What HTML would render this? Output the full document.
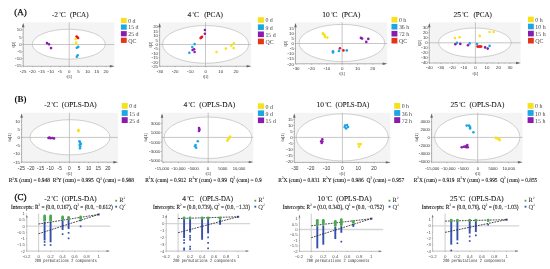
<!DOCTYPE html>
<html><head><meta charset="utf-8"><style>
html,body{margin:0;padding:0;background:#fff;width:550px;height:269px;overflow:hidden}
svg{display:block;will-change:transform;text-rendering:geometricPrecision}
</style></head><body>
<svg width="550" height="269" viewBox="0 0 550 269">
<rect width="550" height="269" fill="#fff"/>
<rect x="23.2" y="22.3" width="91.2" height="44.0" fill="#f4f4f4"/>
<ellipse cx="68.8" cy="44.2" rx="36.5" ry="15.0" fill="#fff" stroke="#c4c4c4" stroke-width="0.8"/>
<line x1="69.2" y1="22.3" x2="69.2" y2="66.3" stroke="#b4b4b4" stroke-width="0.75"/>
<line x1="23.2" y1="44.5" x2="114.4" y2="44.5" stroke="#b4b4b4" stroke-width="0.75"/>
<line x1="23.2" y1="66.3" x2="23.2" y2="24.3" stroke="#8a8a8a" stroke-width="0.65"/>
<path d="M21.9 27.3 L23.2 22.900000000000002 L24.5 27.3Z" fill="#666"/>
<line x1="23.2" y1="66.3" x2="112.4" y2="66.3" stroke="#8a8a8a" stroke-width="0.65"/>
<path d="M109.80000000000001 65.1 L114.60000000000001 66.3 L109.80000000000001 67.5Z" fill="#666"/>
<line x1="27.80" y1="66.3" x2="27.80" y2="67.1" stroke="#999" stroke-width="0.4"/>
<line x1="37.00" y1="66.3" x2="37.00" y2="67.1" stroke="#999" stroke-width="0.4"/>
<line x1="46.20" y1="66.3" x2="46.20" y2="67.1" stroke="#999" stroke-width="0.4"/>
<line x1="55.40" y1="66.3" x2="55.40" y2="67.1" stroke="#999" stroke-width="0.4"/>
<line x1="64.60" y1="66.3" x2="64.60" y2="67.1" stroke="#999" stroke-width="0.4"/>
<line x1="73.80" y1="66.3" x2="73.80" y2="67.1" stroke="#999" stroke-width="0.4"/>
<line x1="83.00" y1="66.3" x2="83.00" y2="67.1" stroke="#999" stroke-width="0.4"/>
<line x1="92.20" y1="66.3" x2="92.20" y2="67.1" stroke="#999" stroke-width="0.4"/>
<line x1="101.40" y1="66.3" x2="101.40" y2="67.1" stroke="#999" stroke-width="0.4"/>
<line x1="22.4" y1="62.30" x2="23.2" y2="62.30" stroke="#999" stroke-width="0.4"/>
<line x1="22.4" y1="55.10" x2="23.2" y2="55.10" stroke="#999" stroke-width="0.4"/>
<line x1="22.4" y1="47.90" x2="23.2" y2="47.90" stroke="#999" stroke-width="0.4"/>
<line x1="22.4" y1="40.70" x2="23.2" y2="40.70" stroke="#999" stroke-width="0.4"/>
<line x1="22.4" y1="33.50" x2="23.2" y2="33.50" stroke="#999" stroke-width="0.4"/>
<line x1="23.20" y1="66.3" x2="23.20" y2="67.3" stroke="#666" stroke-width="0.4"/>
<rect x="19.96" y="71.42" width="1.19" height="0.5" fill="#333"/>
<text x="21.55" y="73.00" font-family="Liberation Sans" font-size="4.4" fill="#333" text-rendering="auto">25</text>
<line x1="32.40" y1="66.3" x2="32.40" y2="67.3" stroke="#666" stroke-width="0.4"/>
<rect x="29.16" y="71.42" width="1.19" height="0.5" fill="#333"/>
<text x="30.75" y="73.00" font-family="Liberation Sans" font-size="4.4" fill="#333" text-rendering="auto">20</text>
<line x1="41.60" y1="66.3" x2="41.60" y2="67.3" stroke="#666" stroke-width="0.4"/>
<rect x="38.36" y="71.42" width="1.19" height="0.5" fill="#333"/>
<text x="39.95" y="73.00" font-family="Liberation Sans" font-size="4.4" fill="#333" text-rendering="auto">15</text>
<line x1="50.80" y1="66.3" x2="50.80" y2="67.3" stroke="#666" stroke-width="0.4"/>
<rect x="47.56" y="71.42" width="1.19" height="0.5" fill="#333"/>
<text x="49.15" y="73.00" font-family="Liberation Sans" font-size="4.4" fill="#333" text-rendering="auto">10</text>
<line x1="60.00" y1="66.3" x2="60.00" y2="67.3" stroke="#666" stroke-width="0.4"/>
<rect x="57.98" y="71.42" width="1.19" height="0.5" fill="#333"/>
<text x="59.57" y="73.00" font-family="Liberation Sans" font-size="4.4" fill="#333" text-rendering="auto">5</text>
<line x1="69.20" y1="66.3" x2="69.20" y2="67.3" stroke="#666" stroke-width="0.4"/>
<text x="67.98" y="73.00" font-family="Liberation Sans" font-size="4.4" fill="#333" text-rendering="auto">0</text>
<line x1="78.40" y1="66.3" x2="78.40" y2="67.3" stroke="#666" stroke-width="0.4"/>
<text x="77.18" y="73.00" font-family="Liberation Sans" font-size="4.4" fill="#333" text-rendering="auto">5</text>
<line x1="87.60" y1="66.3" x2="87.60" y2="67.3" stroke="#666" stroke-width="0.4"/>
<text x="85.15" y="73.00" font-family="Liberation Sans" font-size="4.4" fill="#333" text-rendering="auto">10</text>
<line x1="96.80" y1="66.3" x2="96.80" y2="67.3" stroke="#666" stroke-width="0.4"/>
<text x="94.35" y="73.00" font-family="Liberation Sans" font-size="4.4" fill="#333" text-rendering="auto">15</text>
<line x1="106.00" y1="66.3" x2="106.00" y2="67.3" stroke="#666" stroke-width="0.4"/>
<text x="103.55" y="73.00" font-family="Liberation Sans" font-size="4.4" fill="#333" text-rendering="auto">20</text>
<line x1="22.2" y1="65.90" x2="23.2" y2="65.90" stroke="#666" stroke-width="0.4"/>
<rect x="15.27" y="65.45" width="1.16" height="0.5" fill="#333"/>
<text x="16.82" y="67.00" font-family="Liberation Sans" font-size="4.3" fill="#333" text-rendering="auto">15</text>
<line x1="22.2" y1="58.70" x2="23.2" y2="58.70" stroke="#666" stroke-width="0.4"/>
<rect x="15.27" y="58.45" width="1.16" height="0.5" fill="#333"/>
<text x="16.82" y="60.00" font-family="Liberation Sans" font-size="4.3" fill="#333" text-rendering="auto">10</text>
<line x1="22.2" y1="51.50" x2="23.2" y2="51.50" stroke="#666" stroke-width="0.4"/>
<rect x="17.66" y="51.45" width="1.16" height="0.5" fill="#333"/>
<text x="19.21" y="53.00" font-family="Liberation Sans" font-size="4.3" fill="#333" text-rendering="auto">5</text>
<line x1="22.2" y1="44.30" x2="23.2" y2="44.30" stroke="#666" stroke-width="0.4"/>
<text x="19.21" y="46.00" font-family="Liberation Sans" font-size="4.3" fill="#333" text-rendering="auto">0</text>
<line x1="22.2" y1="37.10" x2="23.2" y2="37.10" stroke="#666" stroke-width="0.4"/>
<text x="19.21" y="39.00" font-family="Liberation Sans" font-size="4.3" fill="#333" text-rendering="auto">5</text>
<line x1="22.2" y1="29.90" x2="23.2" y2="29.90" stroke="#666" stroke-width="0.4"/>
<text x="16.82" y="31.00" font-family="Liberation Sans" font-size="4.3" fill="#333" text-rendering="auto">10</text>
<text x="69.20" y="77.90" font-family="Liberation Sans" font-size="4.0" text-anchor="middle" fill="#444" >t[1]</text>
<text x="0" y="0" font-family="Liberation Sans" font-size="4.2" text-anchor="middle" fill="#444" transform="translate(15.1,44.5) rotate(-90)">t[2]</text>
<text x="58.10" y="16.9" font-family="Liberation Serif" font-size="7.5" text-anchor="end" fill="#111" stroke="#111" stroke-width="0.08">-2</text>
<text x="65.7" y="16.9" font-family="Liberation Serif" font-size="7.5" text-anchor="end" fill="#111" stroke="#111" stroke-width="0.08">C</text>
<text x="61.00" y="14.90" font-family="Liberation Serif" font-size="4.20" text-anchor="end" fill="#111" stroke="#111" stroke-width="0.08">°</text>
<text x="70.1" y="16.9" font-family="Liberation Serif" font-size="7.5" fill="#111" stroke="#111" stroke-width="0.08" textLength="18.50" lengthAdjust="spacingAndGlyphs">(PCA)</text>
<rect x="120.9" y="17.90" width="5.8" height="5.2" fill="#f7e11b"/>
<text x="128.20" y="22.70" font-family="Liberation Serif" font-size="5.9" text-anchor="start" fill="#444" >0 d</text>
<rect x="120.9" y="24.50" width="5.8" height="5.2" fill="#1ba6e6"/>
<text x="128.20" y="29.30" font-family="Liberation Serif" font-size="5.9" text-anchor="start" fill="#444" >15 d</text>
<rect x="120.9" y="31.10" width="5.8" height="5.2" fill="#8a1bb0"/>
<text x="128.20" y="35.90" font-family="Liberation Serif" font-size="5.9" text-anchor="start" fill="#444" >25 d</text>
<rect x="120.9" y="37.70" width="5.8" height="5.2" fill="#e2361a"/>
<text x="128.20" y="42.50" font-family="Liberation Serif" font-size="5.9" text-anchor="start" fill="#444" >QC</text>
<circle cx="47.00" cy="43.10" r="1.3" fill="#8a1bb0"/>
<circle cx="49.00" cy="44.20" r="1.3" fill="#8a1bb0"/>
<circle cx="51.00" cy="48.10" r="1.3" fill="#8a1bb0"/>
<circle cx="76.60" cy="36.50" r="1.3" fill="#ee1818"/>
<circle cx="78.10" cy="38.00" r="1.3" fill="#ee1818"/>
<circle cx="77.40" cy="37.20" r="1.3" fill="#ee1818"/>
<circle cx="75.60" cy="39.00" r="1.3" fill="#f7e11b"/>
<circle cx="76.10" cy="42.60" r="1.3" fill="#f7e11b"/>
<circle cx="76.10" cy="44.00" r="1.3" fill="#f7e11b"/>
<circle cx="76.80" cy="47.80" r="1.3" fill="#1ba6e6"/>
<circle cx="78.20" cy="46.90" r="1.3" fill="#1ba6e6"/>
<circle cx="76.80" cy="56.80" r="1.3" fill="#1ba6e6"/>
<circle cx="77.70" cy="55.20" r="1.3" fill="#1ba6e6"/>
<rect x="159.6" y="22.3" width="91.6" height="44.0" fill="#f4f4f4"/>
<ellipse cx="205.6" cy="44.4" rx="43.1" ry="18.9" fill="#fff" stroke="#c4c4c4" stroke-width="0.8"/>
<line x1="205.5" y1="22.3" x2="205.5" y2="66.3" stroke="#b4b4b4" stroke-width="0.75"/>
<line x1="159.6" y1="44.5" x2="251.2" y2="44.5" stroke="#b4b4b4" stroke-width="0.75"/>
<line x1="159.6" y1="66.3" x2="159.6" y2="24.3" stroke="#8a8a8a" stroke-width="0.65"/>
<path d="M158.29999999999998 27.3 L159.6 22.900000000000002 L160.9 27.3Z" fill="#666"/>
<line x1="159.6" y1="66.3" x2="249.2" y2="66.3" stroke="#8a8a8a" stroke-width="0.65"/>
<path d="M246.6 65.1 L251.39999999999998 66.3 L246.6 67.5Z" fill="#666"/>
<line x1="167.60" y1="66.3" x2="167.60" y2="67.1" stroke="#999" stroke-width="0.4"/>
<line x1="182.80" y1="66.3" x2="182.80" y2="67.1" stroke="#999" stroke-width="0.4"/>
<line x1="198.00" y1="66.3" x2="198.00" y2="67.1" stroke="#999" stroke-width="0.4"/>
<line x1="213.20" y1="66.3" x2="213.20" y2="67.1" stroke="#999" stroke-width="0.4"/>
<line x1="228.40" y1="66.3" x2="228.40" y2="67.1" stroke="#999" stroke-width="0.4"/>
<line x1="158.79999999999998" y1="64.20" x2="159.6" y2="64.20" stroke="#999" stroke-width="0.4"/>
<line x1="158.79999999999998" y1="59.80" x2="159.6" y2="59.80" stroke="#999" stroke-width="0.4"/>
<line x1="158.79999999999998" y1="55.40" x2="159.6" y2="55.40" stroke="#999" stroke-width="0.4"/>
<line x1="158.79999999999998" y1="51.00" x2="159.6" y2="51.00" stroke="#999" stroke-width="0.4"/>
<line x1="158.79999999999998" y1="46.60" x2="159.6" y2="46.60" stroke="#999" stroke-width="0.4"/>
<line x1="158.79999999999998" y1="42.20" x2="159.6" y2="42.20" stroke="#999" stroke-width="0.4"/>
<line x1="158.79999999999998" y1="37.80" x2="159.6" y2="37.80" stroke="#999" stroke-width="0.4"/>
<line x1="158.79999999999998" y1="33.40" x2="159.6" y2="33.40" stroke="#999" stroke-width="0.4"/>
<line x1="158.79999999999998" y1="29.00" x2="159.6" y2="29.00" stroke="#999" stroke-width="0.4"/>
<line x1="160.00" y1="66.3" x2="160.00" y2="67.3" stroke="#666" stroke-width="0.4"/>
<rect x="156.76" y="71.42" width="1.19" height="0.5" fill="#333"/>
<text x="158.35" y="73.00" font-family="Liberation Sans" font-size="4.4" fill="#333" text-rendering="auto">30</text>
<line x1="175.20" y1="66.3" x2="175.20" y2="67.3" stroke="#666" stroke-width="0.4"/>
<rect x="171.96" y="71.42" width="1.19" height="0.5" fill="#333"/>
<text x="173.55" y="73.00" font-family="Liberation Sans" font-size="4.4" fill="#333" text-rendering="auto">20</text>
<line x1="190.40" y1="66.3" x2="190.40" y2="67.3" stroke="#666" stroke-width="0.4"/>
<rect x="187.16" y="71.42" width="1.19" height="0.5" fill="#333"/>
<text x="188.75" y="73.00" font-family="Liberation Sans" font-size="4.4" fill="#333" text-rendering="auto">10</text>
<line x1="205.60" y1="66.3" x2="205.60" y2="67.3" stroke="#666" stroke-width="0.4"/>
<text x="204.38" y="73.00" font-family="Liberation Sans" font-size="4.4" fill="#333" text-rendering="auto">0</text>
<line x1="220.80" y1="66.3" x2="220.80" y2="67.3" stroke="#666" stroke-width="0.4"/>
<text x="218.35" y="73.00" font-family="Liberation Sans" font-size="4.4" fill="#333" text-rendering="auto">10</text>
<line x1="236.00" y1="66.3" x2="236.00" y2="67.3" stroke="#666" stroke-width="0.4"/>
<text x="233.55" y="73.00" font-family="Liberation Sans" font-size="4.4" fill="#333" text-rendering="auto">20</text>
<line x1="158.6" y1="66.40" x2="159.6" y2="66.40" stroke="#666" stroke-width="0.4"/>
<rect x="151.67" y="66.45" width="1.16" height="0.5" fill="#333"/>
<text x="153.22" y="68.00" font-family="Liberation Sans" font-size="4.3" fill="#333" text-rendering="auto">25</text>
<line x1="158.6" y1="62.00" x2="159.6" y2="62.00" stroke="#666" stroke-width="0.4"/>
<rect x="151.67" y="62.45" width="1.16" height="0.5" fill="#333"/>
<text x="153.22" y="64.00" font-family="Liberation Sans" font-size="4.3" fill="#333" text-rendering="auto">20</text>
<line x1="158.6" y1="57.60" x2="159.6" y2="57.60" stroke="#666" stroke-width="0.4"/>
<rect x="151.67" y="57.45" width="1.16" height="0.5" fill="#333"/>
<text x="153.22" y="59.00" font-family="Liberation Sans" font-size="4.3" fill="#333" text-rendering="auto">15</text>
<line x1="158.6" y1="53.20" x2="159.6" y2="53.20" stroke="#666" stroke-width="0.4"/>
<rect x="151.67" y="53.45" width="1.16" height="0.5" fill="#333"/>
<text x="153.22" y="55.00" font-family="Liberation Sans" font-size="4.3" fill="#333" text-rendering="auto">10</text>
<line x1="158.6" y1="48.80" x2="159.6" y2="48.80" stroke="#666" stroke-width="0.4"/>
<rect x="154.06" y="48.45" width="1.16" height="0.5" fill="#333"/>
<text x="155.61" y="50.00" font-family="Liberation Sans" font-size="4.3" fill="#333" text-rendering="auto">5</text>
<line x1="158.6" y1="44.40" x2="159.6" y2="44.40" stroke="#666" stroke-width="0.4"/>
<text x="155.61" y="46.00" font-family="Liberation Sans" font-size="4.3" fill="#333" text-rendering="auto">0</text>
<line x1="158.6" y1="40.00" x2="159.6" y2="40.00" stroke="#666" stroke-width="0.4"/>
<text x="155.61" y="42.00" font-family="Liberation Sans" font-size="4.3" fill="#333" text-rendering="auto">5</text>
<line x1="158.6" y1="35.60" x2="159.6" y2="35.60" stroke="#666" stroke-width="0.4"/>
<text x="153.22" y="37.00" font-family="Liberation Sans" font-size="4.3" fill="#333" text-rendering="auto">10</text>
<line x1="158.6" y1="31.20" x2="159.6" y2="31.20" stroke="#666" stroke-width="0.4"/>
<text x="153.22" y="33.00" font-family="Liberation Sans" font-size="4.3" fill="#333" text-rendering="auto">15</text>
<line x1="158.6" y1="26.80" x2="159.6" y2="26.80" stroke="#666" stroke-width="0.4"/>
<text x="153.22" y="28.00" font-family="Liberation Sans" font-size="4.3" fill="#333" text-rendering="auto">20</text>
<text x="205.50" y="77.90" font-family="Liberation Sans" font-size="4.0" text-anchor="middle" fill="#444" >t[1]</text>
<text x="0" y="0" font-family="Liberation Sans" font-size="4.2" text-anchor="middle" fill="#444" transform="translate(151.5,44.5) rotate(-90)">t[2]</text>
<text x="191.30" y="16.9" font-family="Liberation Serif" font-size="7.5" text-anchor="end" fill="#111" stroke="#111" stroke-width="0.08">4</text>
<text x="198.9" y="16.9" font-family="Liberation Serif" font-size="7.5" text-anchor="end" fill="#111" stroke="#111" stroke-width="0.08">C</text>
<text x="194.20" y="14.90" font-family="Liberation Serif" font-size="4.20" text-anchor="end" fill="#111" stroke="#111" stroke-width="0.08">°</text>
<text x="204.2" y="16.9" font-family="Liberation Serif" font-size="7.5" fill="#111" stroke="#111" stroke-width="0.08" textLength="18.80" lengthAdjust="spacingAndGlyphs">(PCA)</text>
<rect x="257.9" y="17.20" width="6.0" height="5.6" fill="#f7e11b"/>
<text x="265.40" y="22.40" font-family="Liberation Serif" font-size="5.9" text-anchor="start" fill="#444" >0 d</text>
<rect x="257.9" y="24.35" width="6.0" height="5.6" fill="#1ba6e6"/>
<text x="265.40" y="29.55" font-family="Liberation Serif" font-size="5.9" text-anchor="start" fill="#444" >9 d</text>
<rect x="257.9" y="31.50" width="6.0" height="5.6" fill="#8a1bb0"/>
<text x="265.40" y="36.70" font-family="Liberation Serif" font-size="5.9" text-anchor="start" fill="#444" >15 d</text>
<rect x="257.9" y="38.65" width="6.0" height="5.6" fill="#e2361a"/>
<text x="265.40" y="43.85" font-family="Liberation Serif" font-size="5.9" text-anchor="start" fill="#444" >QC</text>
<circle cx="204.90" cy="30.00" r="1.3" fill="#8a1bb0"/>
<circle cx="204.90" cy="33.70" r="1.3" fill="#8a1bb0"/>
<circle cx="200.60" cy="38.10" r="1.3" fill="#ee1818"/>
<circle cx="202.00" cy="36.90" r="1.3" fill="#ee1818"/>
<circle cx="201.20" cy="37.50" r="1.3" fill="#ee1818"/>
<circle cx="194.60" cy="44.10" r="1.3" fill="#1ba6e6"/>
<circle cx="192.30" cy="47.10" r="1.3" fill="#1ba6e6"/>
<circle cx="189.30" cy="52.80" r="1.3" fill="#1ba6e6"/>
<circle cx="192.60" cy="50.00" r="1.3" fill="#8a1bb0"/>
<circle cx="194.10" cy="49.20" r="1.3" fill="#8a1bb0"/>
<circle cx="194.60" cy="52.00" r="1.3" fill="#8a1bb0"/>
<circle cx="233.90" cy="43.40" r="1.3" fill="#f7e11b"/>
<circle cx="231.30" cy="45.60" r="1.3" fill="#f7e11b"/>
<circle cx="233.60" cy="48.10" r="1.3" fill="#f7e11b"/>
<circle cx="225.90" cy="48.60" r="1.3" fill="#f7e11b"/>
<circle cx="216.50" cy="52.00" r="1.3" fill="#f7e11b"/>
<rect x="295.5" y="22.3" width="91.69999999999999" height="41.5" fill="#f4f4f4"/>
<ellipse cx="341.85" cy="43.0" rx="42.85" ry="18.6" fill="#fff" stroke="#c4c4c4" stroke-width="0.8"/>
<line x1="342.1" y1="22.3" x2="342.1" y2="63.8" stroke="#b4b4b4" stroke-width="0.75"/>
<line x1="295.5" y1="43.5" x2="387.2" y2="43.5" stroke="#b4b4b4" stroke-width="0.75"/>
<line x1="295.5" y1="63.8" x2="295.5" y2="24.3" stroke="#8a8a8a" stroke-width="0.65"/>
<path d="M294.2 27.3 L295.5 22.900000000000002 L296.8 27.3Z" fill="#666"/>
<line x1="295.5" y1="63.8" x2="385.2" y2="63.8" stroke="#8a8a8a" stroke-width="0.65"/>
<path d="M382.59999999999997 62.599999999999994 L387.4 63.8 L382.59999999999997 65.0Z" fill="#666"/>
<line x1="303.95" y1="63.8" x2="303.95" y2="64.6" stroke="#999" stroke-width="0.4"/>
<line x1="319.25" y1="63.8" x2="319.25" y2="64.6" stroke="#999" stroke-width="0.4"/>
<line x1="334.55" y1="63.8" x2="334.55" y2="64.6" stroke="#999" stroke-width="0.4"/>
<line x1="349.85" y1="63.8" x2="349.85" y2="64.6" stroke="#999" stroke-width="0.4"/>
<line x1="365.15" y1="63.8" x2="365.15" y2="64.6" stroke="#999" stroke-width="0.4"/>
<line x1="294.7" y1="61.45" x2="295.5" y2="61.45" stroke="#999" stroke-width="0.4"/>
<line x1="294.7" y1="56.35" x2="295.5" y2="56.35" stroke="#999" stroke-width="0.4"/>
<line x1="294.7" y1="51.25" x2="295.5" y2="51.25" stroke="#999" stroke-width="0.4"/>
<line x1="294.7" y1="46.15" x2="295.5" y2="46.15" stroke="#999" stroke-width="0.4"/>
<line x1="294.7" y1="41.05" x2="295.5" y2="41.05" stroke="#999" stroke-width="0.4"/>
<line x1="294.7" y1="35.95" x2="295.5" y2="35.95" stroke="#999" stroke-width="0.4"/>
<line x1="294.7" y1="30.85" x2="295.5" y2="30.85" stroke="#999" stroke-width="0.4"/>
<line x1="296.30" y1="63.8" x2="296.30" y2="64.8" stroke="#666" stroke-width="0.4"/>
<rect x="293.06" y="68.42" width="1.19" height="0.5" fill="#333"/>
<text x="294.65" y="70.00" font-family="Liberation Sans" font-size="4.4" fill="#333" text-rendering="auto">30</text>
<line x1="311.60" y1="63.8" x2="311.60" y2="64.8" stroke="#666" stroke-width="0.4"/>
<rect x="308.36" y="68.42" width="1.19" height="0.5" fill="#333"/>
<text x="309.95" y="70.00" font-family="Liberation Sans" font-size="4.4" fill="#333" text-rendering="auto">20</text>
<line x1="326.90" y1="63.8" x2="326.90" y2="64.8" stroke="#666" stroke-width="0.4"/>
<rect x="323.66" y="68.42" width="1.19" height="0.5" fill="#333"/>
<text x="325.25" y="70.00" font-family="Liberation Sans" font-size="4.4" fill="#333" text-rendering="auto">10</text>
<line x1="342.20" y1="63.8" x2="342.20" y2="64.8" stroke="#666" stroke-width="0.4"/>
<text x="340.98" y="70.00" font-family="Liberation Sans" font-size="4.4" fill="#333" text-rendering="auto">0</text>
<line x1="357.50" y1="63.8" x2="357.50" y2="64.8" stroke="#666" stroke-width="0.4"/>
<text x="355.05" y="70.00" font-family="Liberation Sans" font-size="4.4" fill="#333" text-rendering="auto">10</text>
<line x1="372.80" y1="63.8" x2="372.80" y2="64.8" stroke="#666" stroke-width="0.4"/>
<text x="370.35" y="70.00" font-family="Liberation Sans" font-size="4.4" fill="#333" text-rendering="auto">20</text>
<line x1="294.5" y1="64.00" x2="295.5" y2="64.00" stroke="#666" stroke-width="0.4"/>
<rect x="287.57" y="64.45" width="1.16" height="0.5" fill="#333"/>
<text x="289.12" y="66.00" font-family="Liberation Sans" font-size="4.3" fill="#333" text-rendering="auto">20</text>
<line x1="294.5" y1="58.90" x2="295.5" y2="58.90" stroke="#666" stroke-width="0.4"/>
<rect x="287.57" y="58.45" width="1.16" height="0.5" fill="#333"/>
<text x="289.12" y="60.00" font-family="Liberation Sans" font-size="4.3" fill="#333" text-rendering="auto">15</text>
<line x1="294.5" y1="53.80" x2="295.5" y2="53.80" stroke="#666" stroke-width="0.4"/>
<rect x="287.57" y="53.45" width="1.16" height="0.5" fill="#333"/>
<text x="289.12" y="55.00" font-family="Liberation Sans" font-size="4.3" fill="#333" text-rendering="auto">10</text>
<line x1="294.5" y1="48.70" x2="295.5" y2="48.70" stroke="#666" stroke-width="0.4"/>
<rect x="289.96" y="48.45" width="1.16" height="0.5" fill="#333"/>
<text x="291.51" y="50.00" font-family="Liberation Sans" font-size="4.3" fill="#333" text-rendering="auto">5</text>
<line x1="294.5" y1="43.60" x2="295.5" y2="43.60" stroke="#666" stroke-width="0.4"/>
<text x="291.51" y="45.00" font-family="Liberation Sans" font-size="4.3" fill="#333" text-rendering="auto">0</text>
<line x1="294.5" y1="38.50" x2="295.5" y2="38.50" stroke="#666" stroke-width="0.4"/>
<text x="291.51" y="40.00" font-family="Liberation Sans" font-size="4.3" fill="#333" text-rendering="auto">5</text>
<line x1="294.5" y1="33.40" x2="295.5" y2="33.40" stroke="#666" stroke-width="0.4"/>
<text x="289.12" y="35.00" font-family="Liberation Sans" font-size="4.3" fill="#333" text-rendering="auto">10</text>
<line x1="294.5" y1="28.30" x2="295.5" y2="28.30" stroke="#666" stroke-width="0.4"/>
<text x="289.12" y="30.00" font-family="Liberation Sans" font-size="4.3" fill="#333" text-rendering="auto">15</text>
<text x="342.10" y="75.40" font-family="Liberation Sans" font-size="4.0" text-anchor="middle" fill="#444" >t[1]</text>
<text x="0" y="0" font-family="Liberation Sans" font-size="4.2" text-anchor="middle" fill="#444" transform="translate(287.09999999999997,43.5) rotate(-90)">t[2]</text>
<text x="329.80" y="16.9" font-family="Liberation Serif" font-size="7.5" text-anchor="end" fill="#111" stroke="#111" stroke-width="0.08">10</text>
<text x="337.4" y="16.9" font-family="Liberation Serif" font-size="7.5" text-anchor="end" fill="#111" stroke="#111" stroke-width="0.08">C</text>
<text x="332.70" y="14.90" font-family="Liberation Serif" font-size="4.20" text-anchor="end" fill="#111" stroke="#111" stroke-width="0.08">°</text>
<text x="341.7" y="16.9" font-family="Liberation Serif" font-size="7.5" fill="#111" stroke="#111" stroke-width="0.08" textLength="18.60" lengthAdjust="spacingAndGlyphs">(PCA)</text>
<rect x="391.5" y="16.90" width="5.9" height="5.6" fill="#f7e11b"/>
<text x="398.90" y="22.10" font-family="Liberation Serif" font-size="5.9" text-anchor="start" fill="#444" >0 h</text>
<rect x="391.5" y="23.90" width="5.9" height="5.6" fill="#1ba6e6"/>
<text x="398.90" y="29.10" font-family="Liberation Serif" font-size="5.9" text-anchor="start" fill="#444" >36 h</text>
<rect x="391.5" y="30.90" width="5.9" height="5.6" fill="#8a1bb0"/>
<text x="398.90" y="36.10" font-family="Liberation Serif" font-size="5.9" text-anchor="start" fill="#444" >72 h</text>
<rect x="391.5" y="37.90" width="5.9" height="5.6" fill="#e2361a"/>
<text x="398.90" y="43.10" font-family="Liberation Serif" font-size="5.9" text-anchor="start" fill="#444" >QC</text>
<circle cx="322.90" cy="33.30" r="1.3" fill="#f7e11b"/>
<circle cx="324.60" cy="35.00" r="1.3" fill="#f7e11b"/>
<circle cx="324.90" cy="36.90" r="1.3" fill="#f7e11b"/>
<circle cx="327.30" cy="37.60" r="1.3" fill="#f7e11b"/>
<circle cx="323.50" cy="34.20" r="1.3" fill="#f7e11b"/>
<circle cx="360.90" cy="37.90" r="1.3" fill="#8a1bb0"/>
<circle cx="362.10" cy="38.60" r="1.3" fill="#8a1bb0"/>
<circle cx="368.30" cy="38.90" r="1.3" fill="#8a1bb0"/>
<circle cx="366.30" cy="41.90" r="1.3" fill="#8a1bb0"/>
<circle cx="333.00" cy="51.20" r="1.3" fill="#1ba6e6"/>
<circle cx="333.00" cy="52.40" r="1.3" fill="#1ba6e6"/>
<circle cx="339.00" cy="50.90" r="1.3" fill="#1ba6e6"/>
<circle cx="346.80" cy="50.40" r="1.3" fill="#1ba6e6"/>
<circle cx="339.90" cy="48.30" r="1.3" fill="#ee1818"/>
<circle cx="343.40" cy="50.40" r="1.3" fill="#ee1818"/>
<rect x="429.3" y="22.3" width="91.30000000000001" height="40.7" fill="#f4f4f4"/>
<ellipse cx="474.85" cy="42.65" rx="36.35" ry="14.65" fill="#fff" stroke="#c4c4c4" stroke-width="0.8"/>
<line x1="475.4" y1="22.3" x2="475.4" y2="63" stroke="#b4b4b4" stroke-width="0.75"/>
<line x1="429.3" y1="42.8" x2="520.6" y2="42.8" stroke="#b4b4b4" stroke-width="0.75"/>
<line x1="429.3" y1="63" x2="429.3" y2="24.3" stroke="#8a8a8a" stroke-width="0.65"/>
<path d="M428.0 27.3 L429.3 22.900000000000002 L430.6 27.3Z" fill="#666"/>
<line x1="429.3" y1="63" x2="518.6" y2="63" stroke="#8a8a8a" stroke-width="0.65"/>
<path d="M516.0 61.8 L520.8000000000001 63 L516.0 64.2Z" fill="#666"/>
<line x1="435.25" y1="63" x2="435.25" y2="63.8" stroke="#999" stroke-width="0.4"/>
<line x1="446.75" y1="63" x2="446.75" y2="63.8" stroke="#999" stroke-width="0.4"/>
<line x1="458.25" y1="63" x2="458.25" y2="63.8" stroke="#999" stroke-width="0.4"/>
<line x1="469.75" y1="63" x2="469.75" y2="63.8" stroke="#999" stroke-width="0.4"/>
<line x1="481.25" y1="63" x2="481.25" y2="63.8" stroke="#999" stroke-width="0.4"/>
<line x1="492.75" y1="63" x2="492.75" y2="63.8" stroke="#999" stroke-width="0.4"/>
<line x1="504.25" y1="63" x2="504.25" y2="63.8" stroke="#999" stroke-width="0.4"/>
<line x1="428.5" y1="60.30" x2="429.3" y2="60.30" stroke="#999" stroke-width="0.4"/>
<line x1="428.5" y1="55.30" x2="429.3" y2="55.30" stroke="#999" stroke-width="0.4"/>
<line x1="428.5" y1="50.30" x2="429.3" y2="50.30" stroke="#999" stroke-width="0.4"/>
<line x1="428.5" y1="45.30" x2="429.3" y2="45.30" stroke="#999" stroke-width="0.4"/>
<line x1="428.5" y1="40.30" x2="429.3" y2="40.30" stroke="#999" stroke-width="0.4"/>
<line x1="428.5" y1="35.30" x2="429.3" y2="35.30" stroke="#999" stroke-width="0.4"/>
<line x1="428.5" y1="30.30" x2="429.3" y2="30.30" stroke="#999" stroke-width="0.4"/>
<line x1="429.50" y1="63" x2="429.50" y2="64" stroke="#666" stroke-width="0.4"/>
<rect x="426.26" y="67.42" width="1.19" height="0.5" fill="#333"/>
<text x="427.85" y="69.00" font-family="Liberation Sans" font-size="4.4" fill="#333" text-rendering="auto">40</text>
<line x1="441.00" y1="63" x2="441.00" y2="64" stroke="#666" stroke-width="0.4"/>
<rect x="437.76" y="67.42" width="1.19" height="0.5" fill="#333"/>
<text x="439.35" y="69.00" font-family="Liberation Sans" font-size="4.4" fill="#333" text-rendering="auto">30</text>
<line x1="452.50" y1="63" x2="452.50" y2="64" stroke="#666" stroke-width="0.4"/>
<rect x="449.26" y="67.42" width="1.19" height="0.5" fill="#333"/>
<text x="450.85" y="69.00" font-family="Liberation Sans" font-size="4.4" fill="#333" text-rendering="auto">20</text>
<line x1="464.00" y1="63" x2="464.00" y2="64" stroke="#666" stroke-width="0.4"/>
<rect x="460.76" y="67.42" width="1.19" height="0.5" fill="#333"/>
<text x="462.35" y="69.00" font-family="Liberation Sans" font-size="4.4" fill="#333" text-rendering="auto">10</text>
<line x1="475.50" y1="63" x2="475.50" y2="64" stroke="#666" stroke-width="0.4"/>
<text x="474.28" y="69.00" font-family="Liberation Sans" font-size="4.4" fill="#333" text-rendering="auto">0</text>
<line x1="487.00" y1="63" x2="487.00" y2="64" stroke="#666" stroke-width="0.4"/>
<text x="484.55" y="69.00" font-family="Liberation Sans" font-size="4.4" fill="#333" text-rendering="auto">10</text>
<line x1="498.50" y1="63" x2="498.50" y2="64" stroke="#666" stroke-width="0.4"/>
<text x="496.05" y="69.00" font-family="Liberation Sans" font-size="4.4" fill="#333" text-rendering="auto">20</text>
<line x1="510.00" y1="63" x2="510.00" y2="64" stroke="#666" stroke-width="0.4"/>
<text x="507.55" y="69.00" font-family="Liberation Sans" font-size="4.4" fill="#333" text-rendering="auto">30</text>
<line x1="428.3" y1="62.80" x2="429.3" y2="62.80" stroke="#666" stroke-width="0.4"/>
<rect x="421.37" y="62.45" width="1.16" height="0.5" fill="#333"/>
<text x="422.92" y="64.00" font-family="Liberation Sans" font-size="4.3" fill="#333" text-rendering="auto">40</text>
<line x1="428.3" y1="57.80" x2="429.3" y2="57.80" stroke="#666" stroke-width="0.4"/>
<rect x="421.37" y="57.45" width="1.16" height="0.5" fill="#333"/>
<text x="422.92" y="59.00" font-family="Liberation Sans" font-size="4.3" fill="#333" text-rendering="auto">30</text>
<line x1="428.3" y1="52.80" x2="429.3" y2="52.80" stroke="#666" stroke-width="0.4"/>
<rect x="421.37" y="52.45" width="1.16" height="0.5" fill="#333"/>
<text x="422.92" y="54.00" font-family="Liberation Sans" font-size="4.3" fill="#333" text-rendering="auto">20</text>
<line x1="428.3" y1="47.80" x2="429.3" y2="47.80" stroke="#666" stroke-width="0.4"/>
<rect x="421.37" y="47.45" width="1.16" height="0.5" fill="#333"/>
<text x="422.92" y="49.00" font-family="Liberation Sans" font-size="4.3" fill="#333" text-rendering="auto">10</text>
<line x1="428.3" y1="42.80" x2="429.3" y2="42.80" stroke="#666" stroke-width="0.4"/>
<text x="425.31" y="44.00" font-family="Liberation Sans" font-size="4.3" fill="#333" text-rendering="auto">0</text>
<line x1="428.3" y1="37.80" x2="429.3" y2="37.80" stroke="#666" stroke-width="0.4"/>
<text x="422.92" y="39.00" font-family="Liberation Sans" font-size="4.3" fill="#333" text-rendering="auto">10</text>
<line x1="428.3" y1="32.80" x2="429.3" y2="32.80" stroke="#666" stroke-width="0.4"/>
<text x="422.92" y="34.00" font-family="Liberation Sans" font-size="4.3" fill="#333" text-rendering="auto">20</text>
<line x1="428.3" y1="27.80" x2="429.3" y2="27.80" stroke="#666" stroke-width="0.4"/>
<text x="422.92" y="29.00" font-family="Liberation Sans" font-size="4.3" fill="#333" text-rendering="auto">30</text>
<text x="475.40" y="74.60" font-family="Liberation Sans" font-size="4.0" text-anchor="middle" fill="#444" >t[1]</text>
<text x="0" y="0" font-family="Liberation Sans" font-size="4.2" text-anchor="middle" fill="#444" transform="translate(420.9,42.8) rotate(-90)">t[2]</text>
<text x="460.90" y="16.8" font-family="Liberation Serif" font-size="7.5" text-anchor="end" fill="#111" stroke="#111" stroke-width="0.08">25</text>
<text x="468.5" y="16.8" font-family="Liberation Serif" font-size="7.5" text-anchor="end" fill="#111" stroke="#111" stroke-width="0.08">C</text>
<text x="463.80" y="14.80" font-family="Liberation Serif" font-size="4.20" text-anchor="end" fill="#111" stroke="#111" stroke-width="0.08">°</text>
<text x="473.4" y="16.8" font-family="Liberation Serif" font-size="7.5" fill="#111" stroke="#111" stroke-width="0.08" textLength="18.50" lengthAdjust="spacingAndGlyphs">(PCA)</text>
<rect x="528" y="16.60" width="5.8" height="5.6" fill="#f7e11b"/>
<text x="535.30" y="21.80" font-family="Liberation Serif" font-size="5.9" text-anchor="start" fill="#444" >0 h</text>
<rect x="528" y="23.70" width="5.8" height="5.6" fill="#1ba6e6"/>
<text x="535.30" y="28.90" font-family="Liberation Serif" font-size="5.9" text-anchor="start" fill="#444" >10 h</text>
<rect x="528" y="30.80" width="5.8" height="5.6" fill="#8a1bb0"/>
<text x="535.30" y="36.00" font-family="Liberation Serif" font-size="5.9" text-anchor="start" fill="#444" >15 h</text>
<rect x="528" y="37.90" width="5.8" height="5.6" fill="#e2361a"/>
<text x="535.30" y="43.10" font-family="Liberation Serif" font-size="5.9" text-anchor="start" fill="#444" >QC</text>
<circle cx="454.90" cy="38.10" r="1.3" fill="#f7e11b"/>
<circle cx="459.60" cy="37.30" r="1.3" fill="#f7e11b"/>
<circle cx="479.70" cy="35.90" r="1.3" fill="#f7e11b"/>
<circle cx="489.60" cy="32.00" r="1.3" fill="#f7e11b"/>
<circle cx="493.60" cy="32.00" r="1.3" fill="#f7e11b"/>
<circle cx="456.90" cy="42.90" r="1.3" fill="#1ba6e6"/>
<circle cx="469.70" cy="43.40" r="1.3" fill="#1ba6e6"/>
<circle cx="477.00" cy="44.10" r="1.3" fill="#1ba6e6"/>
<circle cx="489.60" cy="45.90" r="1.3" fill="#1ba6e6"/>
<circle cx="455.30" cy="44.30" r="1.3" fill="#8a1bb0"/>
<circle cx="460.30" cy="43.90" r="1.3" fill="#8a1bb0"/>
<circle cx="468.00" cy="45.30" r="1.3" fill="#8a1bb0"/>
<circle cx="485.10" cy="47.40" r="1.3" fill="#8a1bb0"/>
<circle cx="487.70" cy="48.60" r="1.3" fill="#8a1bb0"/>
<circle cx="477.60" cy="46.60" r="1.3" fill="#ee1818"/>
<circle cx="478.90" cy="46.60" r="1.3" fill="#ee1818"/>
<circle cx="480.20" cy="46.60" r="1.3" fill="#ee1818"/>
<circle cx="481.20" cy="46.50" r="1.3" fill="#ee1818"/>
<rect x="21.6" y="112.8" width="96.30000000000001" height="49.39999999999999" fill="#f4f4f4"/>
<ellipse cx="69.95" cy="137.3" rx="40.0" ry="17.6" fill="#fff" stroke="#c4c4c4" stroke-width="0.8"/>
<line x1="69.4" y1="112.8" x2="69.4" y2="162.2" stroke="#b4b4b4" stroke-width="0.75"/>
<line x1="21.6" y1="137.4" x2="117.9" y2="137.4" stroke="#b4b4b4" stroke-width="0.75"/>
<line x1="21.6" y1="162.2" x2="21.6" y2="114.8" stroke="#8a8a8a" stroke-width="0.65"/>
<path d="M20.3 117.8 L21.6 113.39999999999999 L22.900000000000002 117.8Z" fill="#666"/>
<line x1="21.6" y1="162.2" x2="115.9" y2="162.2" stroke="#8a8a8a" stroke-width="0.65"/>
<path d="M113.30000000000001 161.0 L118.10000000000001 162.2 L113.30000000000001 163.39999999999998Z" fill="#666"/>
<line x1="26.20" y1="162.2" x2="26.20" y2="163.0" stroke="#999" stroke-width="0.4"/>
<line x1="35.80" y1="162.2" x2="35.80" y2="163.0" stroke="#999" stroke-width="0.4"/>
<line x1="45.40" y1="162.2" x2="45.40" y2="163.0" stroke="#999" stroke-width="0.4"/>
<line x1="55.00" y1="162.2" x2="55.00" y2="163.0" stroke="#999" stroke-width="0.4"/>
<line x1="64.60" y1="162.2" x2="64.60" y2="163.0" stroke="#999" stroke-width="0.4"/>
<line x1="74.20" y1="162.2" x2="74.20" y2="163.0" stroke="#999" stroke-width="0.4"/>
<line x1="83.80" y1="162.2" x2="83.80" y2="163.0" stroke="#999" stroke-width="0.4"/>
<line x1="93.40" y1="162.2" x2="93.40" y2="163.0" stroke="#999" stroke-width="0.4"/>
<line x1="103.00" y1="162.2" x2="103.00" y2="163.0" stroke="#999" stroke-width="0.4"/>
<line x1="20.8" y1="157.97" x2="21.6" y2="157.97" stroke="#999" stroke-width="0.4"/>
<line x1="20.8" y1="149.82" x2="21.6" y2="149.82" stroke="#999" stroke-width="0.4"/>
<line x1="20.8" y1="141.68" x2="21.6" y2="141.68" stroke="#999" stroke-width="0.4"/>
<line x1="20.8" y1="133.52" x2="21.6" y2="133.52" stroke="#999" stroke-width="0.4"/>
<line x1="20.8" y1="125.38" x2="21.6" y2="125.38" stroke="#999" stroke-width="0.4"/>
<line x1="21.40" y1="162.2" x2="21.40" y2="163.2" stroke="#666" stroke-width="0.4"/>
<rect x="17.87" y="168.27" width="1.30" height="0.5" fill="#333"/>
<text x="19.60" y="170.00" font-family="Liberation Sans" font-size="4.8" fill="#333" text-rendering="auto">25</text>
<line x1="31.00" y1="162.2" x2="31.00" y2="163.2" stroke="#666" stroke-width="0.4"/>
<rect x="27.47" y="168.27" width="1.30" height="0.5" fill="#333"/>
<text x="29.20" y="170.00" font-family="Liberation Sans" font-size="4.8" fill="#333" text-rendering="auto">20</text>
<line x1="40.60" y1="162.2" x2="40.60" y2="163.2" stroke="#666" stroke-width="0.4"/>
<rect x="37.07" y="168.27" width="1.30" height="0.5" fill="#333"/>
<text x="38.80" y="170.00" font-family="Liberation Sans" font-size="4.8" fill="#333" text-rendering="auto">15</text>
<line x1="50.20" y1="162.2" x2="50.20" y2="163.2" stroke="#666" stroke-width="0.4"/>
<rect x="46.67" y="168.27" width="1.30" height="0.5" fill="#333"/>
<text x="48.40" y="170.00" font-family="Liberation Sans" font-size="4.8" fill="#333" text-rendering="auto">10</text>
<line x1="59.80" y1="162.2" x2="59.80" y2="163.2" stroke="#666" stroke-width="0.4"/>
<rect x="57.60" y="168.27" width="1.30" height="0.5" fill="#333"/>
<text x="59.33" y="170.00" font-family="Liberation Sans" font-size="4.8" fill="#333" text-rendering="auto">5</text>
<line x1="69.40" y1="162.2" x2="69.40" y2="163.2" stroke="#666" stroke-width="0.4"/>
<text x="68.07" y="170.00" font-family="Liberation Sans" font-size="4.8" fill="#333" text-rendering="auto">0</text>
<line x1="79.00" y1="162.2" x2="79.00" y2="163.2" stroke="#666" stroke-width="0.4"/>
<text x="77.67" y="170.00" font-family="Liberation Sans" font-size="4.8" fill="#333" text-rendering="auto">5</text>
<line x1="88.60" y1="162.2" x2="88.60" y2="163.2" stroke="#666" stroke-width="0.4"/>
<text x="85.93" y="170.00" font-family="Liberation Sans" font-size="4.8" fill="#333" text-rendering="auto">10</text>
<line x1="98.20" y1="162.2" x2="98.20" y2="163.2" stroke="#666" stroke-width="0.4"/>
<text x="95.53" y="170.00" font-family="Liberation Sans" font-size="4.8" fill="#333" text-rendering="auto">15</text>
<line x1="107.80" y1="162.2" x2="107.80" y2="163.2" stroke="#666" stroke-width="0.4"/>
<text x="105.13" y="170.00" font-family="Liberation Sans" font-size="4.8" fill="#333" text-rendering="auto">20</text>
<line x1="20.6" y1="162.05" x2="21.6" y2="162.05" stroke="#666" stroke-width="0.4"/>
<rect x="13.67" y="162.45" width="1.16" height="0.5" fill="#333"/>
<text x="15.22" y="164.00" font-family="Liberation Sans" font-size="4.3" fill="#333" text-rendering="auto">15</text>
<line x1="20.6" y1="153.90" x2="21.6" y2="153.90" stroke="#666" stroke-width="0.4"/>
<rect x="13.67" y="153.45" width="1.16" height="0.5" fill="#333"/>
<text x="15.22" y="155.00" font-family="Liberation Sans" font-size="4.3" fill="#333" text-rendering="auto">10</text>
<line x1="20.6" y1="145.75" x2="21.6" y2="145.75" stroke="#666" stroke-width="0.4"/>
<rect x="16.06" y="145.45" width="1.16" height="0.5" fill="#333"/>
<text x="17.61" y="147.00" font-family="Liberation Sans" font-size="4.3" fill="#333" text-rendering="auto">5</text>
<line x1="20.6" y1="137.60" x2="21.6" y2="137.60" stroke="#666" stroke-width="0.4"/>
<text x="17.61" y="139.00" font-family="Liberation Sans" font-size="4.3" fill="#333" text-rendering="auto">0</text>
<line x1="20.6" y1="129.45" x2="21.6" y2="129.45" stroke="#666" stroke-width="0.4"/>
<text x="17.61" y="131.00" font-family="Liberation Sans" font-size="4.3" fill="#333" text-rendering="auto">5</text>
<line x1="20.6" y1="121.30" x2="21.6" y2="121.30" stroke="#666" stroke-width="0.4"/>
<text x="15.22" y="123.00" font-family="Liberation Sans" font-size="4.3" fill="#333" text-rendering="auto">10</text>
<text x="69.40" y="175.00" font-family="Liberation Sans" font-size="4.0" text-anchor="middle" fill="#444" >t[1]</text>
<text x="0" y="0" font-family="Liberation Sans" font-size="4.2" text-anchor="middle" fill="#444" transform="translate(10.6,137.4) rotate(-90)">to[1]</text>
<text x="50.40" y="107.4" font-family="Liberation Serif" font-size="7.5" text-anchor="end" fill="#111" stroke="#111" stroke-width="0.08">-2</text>
<text x="58" y="107.4" font-family="Liberation Serif" font-size="7.5" text-anchor="end" fill="#111" stroke="#111" stroke-width="0.08">C</text>
<text x="53.30" y="105.40" font-family="Liberation Serif" font-size="4.20" text-anchor="end" fill="#111" stroke="#111" stroke-width="0.08">°</text>
<text x="61.8" y="107.4" font-family="Liberation Serif" font-size="7.5" fill="#111" stroke="#111" stroke-width="0.08" textLength="34.90" lengthAdjust="spacingAndGlyphs">(OPLS-DA)</text>
<rect x="121.7" y="103.00" width="6.0" height="5.8" fill="#f7e11b"/>
<text x="129.20" y="108.40" font-family="Liberation Serif" font-size="5.9" text-anchor="start" fill="#444" >0 d</text>
<rect x="121.7" y="110.10" width="6.0" height="5.8" fill="#1ba6e6"/>
<text x="129.20" y="115.50" font-family="Liberation Serif" font-size="5.9" text-anchor="start" fill="#444" >15 d</text>
<rect x="121.7" y="117.20" width="6.0" height="5.8" fill="#8a1bb0"/>
<text x="129.20" y="122.60" font-family="Liberation Serif" font-size="5.9" text-anchor="start" fill="#444" >25 d</text>
<ellipse cx="78.5" cy="130.5" rx="1.4" ry="2.0" fill="#f7e11b"/>
<circle cx="48.50" cy="138.00" r="1.3" fill="#8a1bb0"/>
<circle cx="50.50" cy="138.30" r="1.3" fill="#8a1bb0"/>
<circle cx="52.30" cy="138.00" r="1.3" fill="#8a1bb0"/>
<circle cx="54.00" cy="138.40" r="1.3" fill="#8a1bb0"/>
<circle cx="49.50" cy="137.60" r="1.3" fill="#8a1bb0"/>
<circle cx="79.50" cy="141.20" r="1.3" fill="#1ba6e6"/>
<circle cx="80.00" cy="142.60" r="1.3" fill="#1ba6e6"/>
<circle cx="80.90" cy="144.00" r="1.3" fill="#1ba6e6"/>
<circle cx="79.70" cy="145.00" r="1.3" fill="#1ba6e6"/>
<circle cx="80.20" cy="146.50" r="1.3" fill="#1ba6e6"/>
<circle cx="80.00" cy="148.30" r="1.3" fill="#1ba6e6"/>
<text x="8.70" y="181.70" font-family="Liberation Serif" font-size="6.2" text-anchor="start" fill="#000" textLength="125.3" lengthAdjust="spacingAndGlyphs" stroke="#000" stroke-width="0.07">R<tspan font-size="3.6" dy="-2.1">2</tspan><tspan dy="2.1">X (cum) = 0.948&#160;&#160;R</tspan><tspan font-size="3.6" dy="-2.1">2</tspan><tspan dy="2.1">Y (cum) = 0.995&#160;&#160;Q</tspan><tspan font-size="3.6" dy="-2.1">2</tspan><tspan dy="2.1"> (cum) = 0.988</tspan></text>
<rect x="162.0" y="112.8" width="91.30000000000001" height="49.3" fill="#f4f4f4"/>
<ellipse cx="207.9" cy="137.75" rx="43.9" ry="20.75" fill="#fff" stroke="#c4c4c4" stroke-width="0.8"/>
<line x1="208.2" y1="112.8" x2="208.2" y2="162.1" stroke="#b4b4b4" stroke-width="0.75"/>
<line x1="162.0" y1="137.4" x2="253.3" y2="137.4" stroke="#b4b4b4" stroke-width="0.75"/>
<line x1="162.0" y1="162.1" x2="162.0" y2="114.8" stroke="#8a8a8a" stroke-width="0.65"/>
<path d="M160.7 117.8 L162.0 113.39999999999999 L163.3 117.8Z" fill="#666"/>
<line x1="162.0" y1="162.1" x2="251.3" y2="162.1" stroke="#8a8a8a" stroke-width="0.65"/>
<path d="M248.70000000000002 160.9 L253.5 162.1 L248.70000000000002 163.29999999999998Z" fill="#666"/>
<line x1="170.95" y1="162.1" x2="170.95" y2="162.9" stroke="#999" stroke-width="0.4"/>
<line x1="185.85" y1="162.1" x2="185.85" y2="162.9" stroke="#999" stroke-width="0.4"/>
<line x1="200.75" y1="162.1" x2="200.75" y2="162.9" stroke="#999" stroke-width="0.4"/>
<line x1="215.65" y1="162.1" x2="215.65" y2="162.9" stroke="#999" stroke-width="0.4"/>
<line x1="230.55" y1="162.1" x2="230.55" y2="162.9" stroke="#999" stroke-width="0.4"/>
<line x1="161.2" y1="156.28" x2="162.0" y2="156.28" stroke="#999" stroke-width="0.4"/>
<line x1="161.2" y1="146.84" x2="162.0" y2="146.84" stroke="#999" stroke-width="0.4"/>
<line x1="161.2" y1="137.40" x2="162.0" y2="137.40" stroke="#999" stroke-width="0.4"/>
<line x1="161.2" y1="127.96" x2="162.0" y2="127.96" stroke="#999" stroke-width="0.4"/>
<line x1="163.50" y1="162.1" x2="163.50" y2="163.1" stroke="#666" stroke-width="0.4"/>
<rect x="155.19" y="168.52" width="1.11" height="0.5" fill="#333"/>
<text x="156.67" y="170.00" font-family="Liberation Sans" font-size="4.1" fill="#333" text-rendering="auto">15,000</text>
<line x1="178.40" y1="162.1" x2="178.40" y2="163.1" stroke="#666" stroke-width="0.4"/>
<rect x="171.59" y="168.52" width="1.11" height="0.5" fill="#333"/>
<text x="173.07" y="170.00" font-family="Liberation Sans" font-size="4.1" fill="#333" text-rendering="auto">10,000</text>
<line x1="193.30" y1="162.1" x2="193.30" y2="163.1" stroke="#666" stroke-width="0.4"/>
<rect x="188.30" y="168.52" width="1.11" height="0.5" fill="#333"/>
<text x="189.78" y="170.00" font-family="Liberation Sans" font-size="4.1" fill="#333" text-rendering="auto">5000</text>
<line x1="208.20" y1="162.1" x2="208.20" y2="163.1" stroke="#666" stroke-width="0.4"/>
<text x="206.66" y="170.00" font-family="Liberation Sans" font-size="4.1" fill="#333" text-rendering="auto">0</text>
<line x1="223.10" y1="162.1" x2="223.10" y2="163.1" stroke="#666" stroke-width="0.4"/>
<text x="218.14" y="170.00" font-family="Liberation Sans" font-size="4.1" fill="#333" text-rendering="auto">5000</text>
<line x1="238.00" y1="162.1" x2="238.00" y2="163.1" stroke="#666" stroke-width="0.4"/>
<text x="232.73" y="170.00" font-family="Liberation Sans" font-size="4.1" fill="#333" text-rendering="auto">10,000</text>
<line x1="161.0" y1="161.00" x2="162.0" y2="161.00" stroke="#666" stroke-width="0.4"/>
<rect x="149.29" y="160.45" width="1.16" height="0.5" fill="#333"/>
<text x="150.84" y="162.00" font-family="Liberation Sans" font-size="4.3" fill="#333" text-rendering="auto">5000</text>
<line x1="161.0" y1="151.56" x2="162.0" y2="151.56" stroke="#666" stroke-width="0.4"/>
<rect x="149.29" y="151.45" width="1.16" height="0.5" fill="#333"/>
<text x="150.84" y="153.00" font-family="Liberation Sans" font-size="4.3" fill="#333" text-rendering="auto">3000</text>
<line x1="161.0" y1="142.12" x2="162.0" y2="142.12" stroke="#666" stroke-width="0.4"/>
<rect x="149.29" y="142.45" width="1.16" height="0.5" fill="#333"/>
<text x="150.84" y="144.00" font-family="Liberation Sans" font-size="4.3" fill="#333" text-rendering="auto">1000</text>
<line x1="161.0" y1="132.68" x2="162.0" y2="132.68" stroke="#666" stroke-width="0.4"/>
<text x="150.84" y="134.00" font-family="Liberation Sans" font-size="4.3" fill="#333" text-rendering="auto">1000</text>
<line x1="161.0" y1="123.24" x2="162.0" y2="123.24" stroke="#666" stroke-width="0.4"/>
<text x="150.84" y="125.00" font-family="Liberation Sans" font-size="4.3" fill="#333" text-rendering="auto">3000</text>
<text x="208.20" y="174.90" font-family="Liberation Sans" font-size="4.0" text-anchor="middle" fill="#444" >t[1]</text>
<text x="0" y="0" font-family="Liberation Sans" font-size="4.2" text-anchor="middle" fill="#444" transform="translate(147.0,137.4) rotate(-90)">to[1]</text>
<text x="187.30" y="107.4" font-family="Liberation Serif" font-size="7.5" text-anchor="end" fill="#111" stroke="#111" stroke-width="0.08">4</text>
<text x="194.9" y="107.4" font-family="Liberation Serif" font-size="7.5" text-anchor="end" fill="#111" stroke="#111" stroke-width="0.08">C</text>
<text x="190.20" y="105.40" font-family="Liberation Serif" font-size="4.20" text-anchor="end" fill="#111" stroke="#111" stroke-width="0.08">°</text>
<text x="199.3" y="107.4" font-family="Liberation Serif" font-size="7.5" fill="#111" stroke="#111" stroke-width="0.08" textLength="36.00" lengthAdjust="spacingAndGlyphs">(OPLS-DA)</text>
<rect x="257.9" y="103.30" width="6.2" height="5.6" fill="#f7e11b"/>
<text x="265.60" y="108.50" font-family="Liberation Serif" font-size="5.9" text-anchor="start" fill="#444" >0 d</text>
<rect x="257.9" y="110.40" width="6.2" height="5.6" fill="#1ba6e6"/>
<text x="265.60" y="115.60" font-family="Liberation Serif" font-size="5.9" text-anchor="start" fill="#444" >9 d</text>
<rect x="257.9" y="117.50" width="6.2" height="5.6" fill="#8a1bb0"/>
<text x="265.60" y="122.70" font-family="Liberation Serif" font-size="5.9" text-anchor="start" fill="#444" >15 d</text>
<circle cx="197.80" cy="141.20" r="1.3" fill="#1ba6e6"/>
<circle cx="195.00" cy="146.20" r="1.3" fill="#1ba6e6"/>
<circle cx="196.20" cy="147.70" r="1.3" fill="#1ba6e6"/>
<circle cx="195.60" cy="145.10" r="1.3" fill="#1ba6e6"/>
<circle cx="199.00" cy="128.00" r="1.3" fill="#8a1bb0"/>
<circle cx="199.50" cy="129.50" r="1.3" fill="#8a1bb0"/>
<circle cx="199.00" cy="130.90" r="1.3" fill="#8a1bb0"/>
<line x1="230.2" y1="136.5" x2="227.4" y2="140.6" stroke="#f7e11b" stroke-width="2.6" stroke-linecap="round"/>
<text x="145.20" y="181.50" font-family="Liberation Serif" font-size="6.2" text-anchor="start" fill="#000" textLength="116.5" lengthAdjust="spacingAndGlyphs" stroke="#000" stroke-width="0.07">R<tspan font-size="3.6" dy="-2.1">2</tspan><tspan dy="2.1">X (cum) = 0.912&#160;&#160;R</tspan><tspan font-size="3.6" dy="-2.1">2</tspan><tspan dy="2.1">Y (cum) = 0.99&#160;&#160;Q</tspan><tspan font-size="3.6" dy="-2.1">2</tspan><tspan dy="2.1"> (cum) = 0.9</tspan></text>
<rect x="294.3" y="112.8" width="96.09999999999997" height="49.60000000000001" fill="#f4f4f4"/>
<ellipse cx="342.3" cy="137.4" rx="46.1" ry="23.6" fill="#fff" stroke="#c4c4c4" stroke-width="0.8"/>
<line x1="342.4" y1="112.8" x2="342.4" y2="162.4" stroke="#b4b4b4" stroke-width="0.75"/>
<line x1="294.3" y1="137.4" x2="390.4" y2="137.4" stroke="#b4b4b4" stroke-width="0.75"/>
<line x1="294.3" y1="162.4" x2="294.3" y2="114.8" stroke="#8a8a8a" stroke-width="0.65"/>
<path d="M293.0 117.8 L294.3 113.39999999999999 L295.6 117.8Z" fill="#666"/>
<line x1="294.3" y1="162.4" x2="388.4" y2="162.4" stroke="#8a8a8a" stroke-width="0.65"/>
<path d="M385.79999999999995 161.20000000000002 L390.59999999999997 162.4 L385.79999999999995 163.6Z" fill="#666"/>
<line x1="302.90" y1="162.4" x2="302.90" y2="163.20000000000002" stroke="#999" stroke-width="0.4"/>
<line x1="318.70" y1="162.4" x2="318.70" y2="163.20000000000002" stroke="#999" stroke-width="0.4"/>
<line x1="334.50" y1="162.4" x2="334.50" y2="163.20000000000002" stroke="#999" stroke-width="0.4"/>
<line x1="350.30" y1="162.4" x2="350.30" y2="163.20000000000002" stroke="#999" stroke-width="0.4"/>
<line x1="366.10" y1="162.4" x2="366.10" y2="163.20000000000002" stroke="#999" stroke-width="0.4"/>
<line x1="293.5" y1="158.22" x2="294.3" y2="158.22" stroke="#999" stroke-width="0.4"/>
<line x1="293.5" y1="152.28" x2="294.3" y2="152.28" stroke="#999" stroke-width="0.4"/>
<line x1="293.5" y1="146.32" x2="294.3" y2="146.32" stroke="#999" stroke-width="0.4"/>
<line x1="293.5" y1="140.38" x2="294.3" y2="140.38" stroke="#999" stroke-width="0.4"/>
<line x1="293.5" y1="134.43" x2="294.3" y2="134.43" stroke="#999" stroke-width="0.4"/>
<line x1="293.5" y1="128.48" x2="294.3" y2="128.48" stroke="#999" stroke-width="0.4"/>
<line x1="293.5" y1="122.53" x2="294.3" y2="122.53" stroke="#999" stroke-width="0.4"/>
<line x1="295.00" y1="162.4" x2="295.00" y2="163.4" stroke="#666" stroke-width="0.4"/>
<rect x="291.47" y="168.27" width="1.30" height="0.5" fill="#333"/>
<text x="293.20" y="170.00" font-family="Liberation Sans" font-size="4.8" fill="#333" text-rendering="auto">30</text>
<line x1="310.80" y1="162.4" x2="310.80" y2="163.4" stroke="#666" stroke-width="0.4"/>
<rect x="307.27" y="168.27" width="1.30" height="0.5" fill="#333"/>
<text x="309.00" y="170.00" font-family="Liberation Sans" font-size="4.8" fill="#333" text-rendering="auto">20</text>
<line x1="326.60" y1="162.4" x2="326.60" y2="163.4" stroke="#666" stroke-width="0.4"/>
<rect x="323.07" y="168.27" width="1.30" height="0.5" fill="#333"/>
<text x="324.80" y="170.00" font-family="Liberation Sans" font-size="4.8" fill="#333" text-rendering="auto">10</text>
<line x1="342.40" y1="162.4" x2="342.40" y2="163.4" stroke="#666" stroke-width="0.4"/>
<text x="341.07" y="170.00" font-family="Liberation Sans" font-size="4.8" fill="#333" text-rendering="auto">0</text>
<line x1="358.20" y1="162.4" x2="358.20" y2="163.4" stroke="#666" stroke-width="0.4"/>
<text x="355.53" y="170.00" font-family="Liberation Sans" font-size="4.8" fill="#333" text-rendering="auto">10</text>
<line x1="374.00" y1="162.4" x2="374.00" y2="163.4" stroke="#666" stroke-width="0.4"/>
<text x="371.33" y="170.00" font-family="Liberation Sans" font-size="4.8" fill="#333" text-rendering="auto">20</text>
<line x1="293.3" y1="161.20" x2="294.3" y2="161.20" stroke="#666" stroke-width="0.4"/>
<rect x="286.37" y="161.45" width="1.16" height="0.5" fill="#333"/>
<text x="287.92" y="163.00" font-family="Liberation Sans" font-size="4.3" fill="#333" text-rendering="auto">20</text>
<line x1="293.3" y1="155.25" x2="294.3" y2="155.25" stroke="#666" stroke-width="0.4"/>
<rect x="286.37" y="155.45" width="1.16" height="0.5" fill="#333"/>
<text x="287.92" y="157.00" font-family="Liberation Sans" font-size="4.3" fill="#333" text-rendering="auto">15</text>
<line x1="293.3" y1="149.30" x2="294.3" y2="149.30" stroke="#666" stroke-width="0.4"/>
<rect x="286.37" y="149.45" width="1.16" height="0.5" fill="#333"/>
<text x="287.92" y="151.00" font-family="Liberation Sans" font-size="4.3" fill="#333" text-rendering="auto">10</text>
<line x1="293.3" y1="143.35" x2="294.3" y2="143.35" stroke="#666" stroke-width="0.4"/>
<rect x="288.76" y="143.45" width="1.16" height="0.5" fill="#333"/>
<text x="290.31" y="145.00" font-family="Liberation Sans" font-size="4.3" fill="#333" text-rendering="auto">5</text>
<line x1="293.3" y1="137.40" x2="294.3" y2="137.40" stroke="#666" stroke-width="0.4"/>
<text x="290.31" y="139.00" font-family="Liberation Sans" font-size="4.3" fill="#333" text-rendering="auto">0</text>
<line x1="293.3" y1="131.45" x2="294.3" y2="131.45" stroke="#666" stroke-width="0.4"/>
<text x="290.31" y="133.00" font-family="Liberation Sans" font-size="4.3" fill="#333" text-rendering="auto">5</text>
<line x1="293.3" y1="125.50" x2="294.3" y2="125.50" stroke="#666" stroke-width="0.4"/>
<text x="287.92" y="127.00" font-family="Liberation Sans" font-size="4.3" fill="#333" text-rendering="auto">10</text>
<line x1="293.3" y1="119.55" x2="294.3" y2="119.55" stroke="#666" stroke-width="0.4"/>
<text x="287.92" y="121.00" font-family="Liberation Sans" font-size="4.3" fill="#333" text-rendering="auto">15</text>
<text x="342.40" y="175.20" font-family="Liberation Sans" font-size="4.0" text-anchor="middle" fill="#444" >t[1]</text>
<text x="0" y="0" font-family="Liberation Sans" font-size="4.2" text-anchor="middle" fill="#444" transform="translate(284.0,137.4) rotate(-90)">to[1]</text>
<text x="324.00" y="107.4" font-family="Liberation Serif" font-size="7.5" text-anchor="end" fill="#111" stroke="#111" stroke-width="0.08">10</text>
<text x="331.6" y="107.4" font-family="Liberation Serif" font-size="7.5" text-anchor="end" fill="#111" stroke="#111" stroke-width="0.08">C</text>
<text x="326.90" y="105.40" font-family="Liberation Serif" font-size="4.20" text-anchor="end" fill="#111" stroke="#111" stroke-width="0.08">°</text>
<text x="335.5" y="107.4" font-family="Liberation Serif" font-size="7.5" fill="#111" stroke="#111" stroke-width="0.08" textLength="33.80" lengthAdjust="spacingAndGlyphs">(OPLS-DA)</text>
<rect x="394.2" y="103.00" width="6.0" height="5.8" fill="#f7e11b"/>
<text x="401.70" y="108.40" font-family="Liberation Serif" font-size="5.9" text-anchor="start" fill="#444" >0 h</text>
<rect x="394.2" y="110.10" width="6.0" height="5.8" fill="#1ba6e6"/>
<text x="401.70" y="115.50" font-family="Liberation Serif" font-size="5.9" text-anchor="start" fill="#444" >36 h</text>
<rect x="394.2" y="117.20" width="6.0" height="5.8" fill="#8a1bb0"/>
<text x="401.70" y="122.60" font-family="Liberation Serif" font-size="5.9" text-anchor="start" fill="#444" >72 h</text>
<circle cx="345.00" cy="125.60" r="1.3" fill="#1ba6e6"/>
<circle cx="347.00" cy="125.00" r="1.3" fill="#1ba6e6"/>
<circle cx="348.00" cy="127.00" r="1.3" fill="#1ba6e6"/>
<circle cx="346.20" cy="128.50" r="1.3" fill="#1ba6e6"/>
<circle cx="344.80" cy="127.30" r="1.3" fill="#1ba6e6"/>
<circle cx="322.30" cy="139.20" r="1.3" fill="#8a1bb0"/>
<circle cx="321.20" cy="141.20" r="1.3" fill="#8a1bb0"/>
<circle cx="321.70" cy="142.90" r="1.3" fill="#8a1bb0"/>
<circle cx="322.40" cy="141.60" r="1.3" fill="#8a1bb0"/>
<circle cx="358.5" cy="144" r="1.35" fill="#f7e11b"/>
<circle cx="360.6" cy="144.2" r="1.35" fill="#f7e11b"/>
<circle cx="359.1" cy="146.6" r="1.35" fill="#f7e11b"/>
<text x="278.30" y="181.50" font-family="Liberation Serif" font-size="6.2" text-anchor="start" fill="#000" textLength="126" lengthAdjust="spacingAndGlyphs" stroke="#000" stroke-width="0.07">R<tspan font-size="3.6" dy="-2.1">2</tspan><tspan dy="2.1">X (cum) = 0.831&#160;&#160;R</tspan><tspan font-size="3.6" dy="-2.1">2</tspan><tspan dy="2.1">Y (cum) = 0.986&#160;&#160;Q</tspan><tspan font-size="3.6" dy="-2.1">2</tspan><tspan dy="2.1"> (cum) = 0.957</tspan></text>
<rect x="431.6" y="112.8" width="90.89999999999998" height="49.39999999999999" fill="#f4f4f4"/>
<ellipse cx="477.25" cy="137.1" rx="42.75" ry="22.9" fill="#fff" stroke="#c4c4c4" stroke-width="0.8"/>
<line x1="477.7" y1="112.8" x2="477.7" y2="162.2" stroke="#b4b4b4" stroke-width="0.75"/>
<line x1="431.6" y1="137.4" x2="522.5" y2="137.4" stroke="#b4b4b4" stroke-width="0.75"/>
<line x1="431.6" y1="162.2" x2="431.6" y2="114.8" stroke="#8a8a8a" stroke-width="0.65"/>
<path d="M430.3 117.8 L431.6 113.39999999999999 L432.90000000000003 117.8Z" fill="#666"/>
<line x1="431.6" y1="162.2" x2="520.5" y2="162.2" stroke="#8a8a8a" stroke-width="0.65"/>
<path d="M517.9 161.0 L522.7 162.2 L517.9 163.39999999999998Z" fill="#666"/>
<line x1="439.20" y1="162.2" x2="439.20" y2="163.0" stroke="#999" stroke-width="0.4"/>
<line x1="454.60" y1="162.2" x2="454.60" y2="163.0" stroke="#999" stroke-width="0.4"/>
<line x1="470.00" y1="162.2" x2="470.00" y2="163.0" stroke="#999" stroke-width="0.4"/>
<line x1="485.40" y1="162.2" x2="485.40" y2="163.0" stroke="#999" stroke-width="0.4"/>
<line x1="500.80" y1="162.2" x2="500.80" y2="163.0" stroke="#999" stroke-width="0.4"/>
<line x1="430.8" y1="157.30" x2="431.6" y2="157.30" stroke="#999" stroke-width="0.4"/>
<line x1="430.8" y1="149.38" x2="431.6" y2="149.38" stroke="#999" stroke-width="0.4"/>
<line x1="430.8" y1="141.46" x2="431.6" y2="141.46" stroke="#999" stroke-width="0.4"/>
<line x1="430.8" y1="133.54" x2="431.6" y2="133.54" stroke="#999" stroke-width="0.4"/>
<line x1="430.8" y1="125.62" x2="431.6" y2="125.62" stroke="#999" stroke-width="0.4"/>
<line x1="431.50" y1="162.2" x2="431.50" y2="163.2" stroke="#666" stroke-width="0.4"/>
<rect x="425.39" y="168.52" width="1.11" height="0.5" fill="#333"/>
<text x="426.87" y="170.00" font-family="Liberation Sans" font-size="4.1" fill="#333" text-rendering="auto">15,000</text>
<line x1="446.90" y1="162.2" x2="446.90" y2="163.2" stroke="#666" stroke-width="0.4"/>
<rect x="441.49" y="168.52" width="1.11" height="0.5" fill="#333"/>
<text x="442.97" y="170.00" font-family="Liberation Sans" font-size="4.1" fill="#333" text-rendering="auto">10,000</text>
<line x1="462.30" y1="162.2" x2="462.30" y2="163.2" stroke="#666" stroke-width="0.4"/>
<rect x="458.20" y="168.52" width="1.11" height="0.5" fill="#333"/>
<text x="459.68" y="170.00" font-family="Liberation Sans" font-size="4.1" fill="#333" text-rendering="auto">5000</text>
<line x1="477.70" y1="162.2" x2="477.70" y2="163.2" stroke="#666" stroke-width="0.4"/>
<text x="476.86" y="170.00" font-family="Liberation Sans" font-size="4.1" fill="#333" text-rendering="auto">0</text>
<line x1="493.10" y1="162.2" x2="493.10" y2="163.2" stroke="#666" stroke-width="0.4"/>
<text x="488.44" y="170.00" font-family="Liberation Sans" font-size="4.1" fill="#333" text-rendering="auto">5000</text>
<line x1="508.50" y1="162.2" x2="508.50" y2="163.2" stroke="#666" stroke-width="0.4"/>
<text x="502.43" y="170.00" font-family="Liberation Sans" font-size="4.1" fill="#333" text-rendering="auto">10,000</text>
<line x1="430.6" y1="161.26" x2="431.6" y2="161.26" stroke="#666" stroke-width="0.4"/>
<rect x="418.89" y="161.45" width="1.16" height="0.5" fill="#333"/>
<text x="420.44" y="163.00" font-family="Liberation Sans" font-size="4.3" fill="#333" text-rendering="auto">6000</text>
<line x1="430.6" y1="153.34" x2="431.6" y2="153.34" stroke="#666" stroke-width="0.4"/>
<rect x="418.89" y="153.45" width="1.16" height="0.5" fill="#333"/>
<text x="420.44" y="155.00" font-family="Liberation Sans" font-size="4.3" fill="#333" text-rendering="auto">4000</text>
<line x1="430.6" y1="145.42" x2="431.6" y2="145.42" stroke="#666" stroke-width="0.4"/>
<rect x="418.89" y="145.45" width="1.16" height="0.5" fill="#333"/>
<text x="420.44" y="147.00" font-family="Liberation Sans" font-size="4.3" fill="#333" text-rendering="auto">2000</text>
<line x1="430.6" y1="137.50" x2="431.6" y2="137.50" stroke="#666" stroke-width="0.4"/>
<text x="427.61" y="139.00" font-family="Liberation Sans" font-size="4.3" fill="#333" text-rendering="auto">0</text>
<line x1="430.6" y1="129.58" x2="431.6" y2="129.58" stroke="#666" stroke-width="0.4"/>
<text x="420.44" y="131.00" font-family="Liberation Sans" font-size="4.3" fill="#333" text-rendering="auto">2000</text>
<line x1="430.6" y1="121.66" x2="431.6" y2="121.66" stroke="#666" stroke-width="0.4"/>
<text x="420.44" y="123.00" font-family="Liberation Sans" font-size="4.3" fill="#333" text-rendering="auto">4000</text>
<text x="477.70" y="175.00" font-family="Liberation Sans" font-size="4.0" text-anchor="middle" fill="#444" >t[1]</text>
<text x="0" y="0" font-family="Liberation Sans" font-size="4.2" text-anchor="middle" fill="#444" transform="translate(417.59999999999997,137.4) rotate(-90)">to[1]</text>
<text x="457.90" y="107.4" font-family="Liberation Serif" font-size="7.5" text-anchor="end" fill="#111" stroke="#111" stroke-width="0.08">25</text>
<text x="465.5" y="107.4" font-family="Liberation Serif" font-size="7.5" text-anchor="end" fill="#111" stroke="#111" stroke-width="0.08">C</text>
<text x="460.80" y="105.40" font-family="Liberation Serif" font-size="4.20" text-anchor="end" fill="#111" stroke="#111" stroke-width="0.08">°</text>
<text x="469.4" y="107.4" font-family="Liberation Serif" font-size="7.5" fill="#111" stroke="#111" stroke-width="0.08" textLength="34.90" lengthAdjust="spacingAndGlyphs">(OPLS-DA)</text>
<rect x="527.6" y="103.00" width="6.0" height="5.8" fill="#f7e11b"/>
<text x="535.10" y="108.40" font-family="Liberation Serif" font-size="5.9" text-anchor="start" fill="#444" >0 h</text>
<rect x="527.6" y="110.10" width="6.0" height="5.8" fill="#1ba6e6"/>
<text x="535.10" y="115.50" font-family="Liberation Serif" font-size="5.9" text-anchor="start" fill="#444" >10 h</text>
<rect x="527.6" y="117.20" width="6.0" height="5.8" fill="#8a1bb0"/>
<text x="535.10" y="122.60" font-family="Liberation Serif" font-size="5.9" text-anchor="start" fill="#444" >15 h</text>
<circle cx="473.40" cy="132.30" r="1.3" fill="#1ba6e6"/>
<circle cx="466.70" cy="125.60" r="1.3" fill="#1ba6e6"/>
<circle cx="469.00" cy="125.60" r="1.3" fill="#1ba6e6"/>
<circle cx="470.10" cy="126.90" r="1.3" fill="#1ba6e6"/>
<circle cx="470.10" cy="128.40" r="1.3" fill="#1ba6e6"/>
<circle cx="495.7" cy="137.9" r="1.35" fill="#f7e11b"/>
<circle cx="497.4" cy="138.4" r="1.35" fill="#f7e11b"/>
<circle cx="499.1" cy="139.2" r="1.35" fill="#f7e11b"/>
<circle cx="499.6" cy="140.1" r="1.35" fill="#f7e11b"/>
<circle cx="461.70" cy="147.30" r="1.3" fill="#8a1bb0"/>
<circle cx="463.90" cy="146.80" r="1.3" fill="#8a1bb0"/>
<circle cx="465.60" cy="146.20" r="1.3" fill="#8a1bb0"/>
<circle cx="467.30" cy="145.10" r="1.3" fill="#8a1bb0"/>
<circle cx="467.80" cy="147.30" r="1.3" fill="#8a1bb0"/>
<circle cx="466.20" cy="147.30" r="1.3" fill="#8a1bb0"/>
<text x="413.80" y="181.50" font-family="Liberation Serif" font-size="6.2" text-anchor="start" fill="#000" textLength="123.4" lengthAdjust="spacingAndGlyphs" stroke="#000" stroke-width="0.07">R<tspan font-size="3.6" dy="-2.1">2</tspan><tspan dy="2.1">X (cum) = 0.919&#160;&#160;R</tspan><tspan font-size="3.6" dy="-2.1">2</tspan><tspan dy="2.1">Y (cum) = 0.995&#160;&#160;Q</tspan><tspan font-size="3.6" dy="-2.1">2</tspan><tspan dy="2.1"> (cum) = 0.855</tspan></text>
<line x1="26.8" y1="226.1" x2="110.2" y2="226.1" stroke="#d6d6d6" stroke-width="1.3"/>
<line x1="38.6" y1="213.5" x2="38.6" y2="251.1" stroke="#d4d4d4" stroke-width="1.2"/>
<line x1="26.8" y1="251.1" x2="26.8" y2="216" stroke="#777" stroke-width="0.45"/>
<path d="M25.900000000000002 217.5 L26.8 214.5 L27.7 217.5Z" fill="#777"/>
<line x1="26.8" y1="251.1" x2="109" y2="251.1" stroke="#777" stroke-width="0.45"/>
<path d="M106.5 250.2 L110 251.1 L106.5 252.0Z" fill="#777"/>
<line x1="26.60" y1="251.1" x2="26.60" y2="251.9" stroke="#777" stroke-width="0.4"/>
<rect x="22.75" y="256.42" width="1.19" height="0.5" fill="#555"/>
<text x="24.33" y="258.00" font-family="Liberation Sans" font-size="4.4" fill="#555" text-rendering="auto">0.2</text>
<line x1="38.60" y1="251.1" x2="38.60" y2="251.9" stroke="#777" stroke-width="0.4"/>
<text x="37.38" y="258.00" font-family="Liberation Sans" font-size="4.4" fill="#555" text-rendering="auto">0</text>
<line x1="50.60" y1="251.1" x2="50.60" y2="251.9" stroke="#777" stroke-width="0.4"/>
<text x="47.54" y="258.00" font-family="Liberation Sans" font-size="4.4" fill="#555" text-rendering="auto">0.2</text>
<line x1="62.60" y1="251.1" x2="62.60" y2="251.9" stroke="#777" stroke-width="0.4"/>
<text x="59.54" y="258.00" font-family="Liberation Sans" font-size="4.4" fill="#555" text-rendering="auto">0.4</text>
<line x1="74.60" y1="251.1" x2="74.60" y2="251.9" stroke="#777" stroke-width="0.4"/>
<text x="71.54" y="258.00" font-family="Liberation Sans" font-size="4.4" fill="#555" text-rendering="auto">0.6</text>
<line x1="86.60" y1="251.1" x2="86.60" y2="251.9" stroke="#777" stroke-width="0.4"/>
<text x="83.54" y="258.00" font-family="Liberation Sans" font-size="4.4" fill="#555" text-rendering="auto">0.8</text>
<line x1="98.60" y1="251.1" x2="98.60" y2="251.9" stroke="#777" stroke-width="0.4"/>
<text x="97.38" y="258.00" font-family="Liberation Sans" font-size="4.4" fill="#555" text-rendering="auto">1</text>
<line x1="26.0" y1="251.10" x2="26.8" y2="251.10" stroke="#777" stroke-width="0.4"/>
<rect x="21.06" y="251.45" width="1.16" height="0.5" fill="#555"/>
<text x="22.61" y="253.00" font-family="Liberation Sans" font-size="4.3" fill="#555" text-rendering="auto">2</text>
<line x1="26.0" y1="244.85" x2="26.8" y2="244.85" stroke="#777" stroke-width="0.4"/>
<rect x="17.48" y="244.45" width="1.16" height="0.5" fill="#555"/>
<text x="19.02" y="246.00" font-family="Liberation Sans" font-size="4.3" fill="#555" text-rendering="auto">1.5</text>
<line x1="26.0" y1="238.60" x2="26.8" y2="238.60" stroke="#777" stroke-width="0.4"/>
<rect x="21.06" y="238.45" width="1.16" height="0.5" fill="#555"/>
<text x="22.61" y="240.00" font-family="Liberation Sans" font-size="4.3" fill="#555" text-rendering="auto">1</text>
<line x1="26.0" y1="232.35" x2="26.8" y2="232.35" stroke="#777" stroke-width="0.4"/>
<rect x="17.48" y="232.45" width="1.16" height="0.5" fill="#555"/>
<text x="19.02" y="234.00" font-family="Liberation Sans" font-size="4.3" fill="#555" text-rendering="auto">0.5</text>
<line x1="26.0" y1="226.10" x2="26.8" y2="226.10" stroke="#777" stroke-width="0.4"/>
<text x="22.61" y="228.00" font-family="Liberation Sans" font-size="4.3" fill="#555" text-rendering="auto">0</text>
<line x1="26.0" y1="219.85" x2="26.8" y2="219.85" stroke="#777" stroke-width="0.4"/>
<text x="19.02" y="221.00" font-family="Liberation Sans" font-size="4.3" fill="#555" text-rendering="auto">0.5</text>
<line x1="26.0" y1="213.60" x2="26.8" y2="213.60" stroke="#777" stroke-width="0.4"/>
<text x="22.61" y="215.00" font-family="Liberation Sans" font-size="4.3" fill="#555" text-rendering="auto">1</text>
<rect x="43.65" y="221.85" width="1.9" height="18.62" fill="#3550b0"/>
<rect x="43.75" y="241.12" width="1.7" height="1.7" fill="#3550b0"/>
<rect x="43.75" y="244.12" width="1.7" height="1.7" fill="#3550b0"/>
<rect x="49.65" y="221.97" width="1.9" height="20.38" fill="#3550b0"/>
<rect x="49.75" y="244.12" width="1.7" height="1.7" fill="#3550b0"/>
<rect x="61.65" y="220.35" width="1.9" height="9.62" fill="#3550b0"/>
<rect x="61.75" y="233.25" width="1.7" height="1.7" fill="#3550b0"/>
<rect x="67.65" y="219.97" width="1.9" height="9.00" fill="#3550b0"/>
<rect x="67.75" y="232.00" width="1.7" height="1.7" fill="#3550b0"/>
<rect x="67.75" y="237.50" width="1.7" height="1.7" fill="#3550b0"/>
<rect x="79.65" y="219.72" width="1.9" height="1.50" fill="#3550b0"/>
<rect x="79.75" y="225.50" width="1.7" height="1.7" fill="#3550b0"/>
<rect x="97.50" y="213.47" width="2.2" height="2" fill="#3550b0"/>
<line x1="38.6" y1="224.01" x2="98.60" y2="214.47" stroke="#2a2a2a" stroke-width="0.85" stroke-dasharray="1.8,1"/>
<line x1="38.6" y1="233.75" x2="98.60" y2="214.47" stroke="#2a2a2a" stroke-width="0.85" stroke-dasharray="1.8,1"/>
<rect x="43.20" y="214.60" width="2.8" height="7.25" rx="1.4" fill="#4aa84e"/>
<rect x="49.20" y="214.60" width="2.8" height="7.38" rx="1.4" fill="#4aa84e"/>
<rect x="61.20" y="215.60" width="2.8" height="4.75" rx="1.4" fill="#4aa84e"/>
<rect x="67.20" y="216.10" width="2.8" height="3.88" rx="1.4" fill="#4aa84e"/>
<rect x="79.20" y="215.60" width="2.8" height="4.12" rx="1.4" fill="#4aa84e"/>
<text x="50.40" y="201.1" font-family="Liberation Serif" font-size="7.5" text-anchor="end" fill="#111" stroke="#111" stroke-width="0.08">-2</text>
<text x="58" y="201.1" font-family="Liberation Serif" font-size="7.5" text-anchor="end" fill="#111" stroke="#111" stroke-width="0.08">C</text>
<text x="53.30" y="199.10" font-family="Liberation Serif" font-size="4.20" text-anchor="end" fill="#111" stroke="#111" stroke-width="0.08">°</text>
<text x="61.8" y="201.1" font-family="Liberation Serif" font-size="7.5" fill="#111" stroke="#111" stroke-width="0.08" textLength="34.90" lengthAdjust="spacingAndGlyphs">(OPLS-DA)</text>
<text x="11.00" y="208.60" font-family="Liberation Serif" font-size="6.3" text-anchor="start" fill="#000" textLength="101.7" lengthAdjust="spacingAndGlyphs" stroke="#000" stroke-width="0.07">Intercepts: R<tspan font-size="3.7" dy="-2.2">2</tspan><tspan dy="2.2"> = (0.0, 0.167), Q</tspan><tspan font-size="3.7" dy="-2.2">2</tspan><tspan dy="2.2"> = (0.0, −0.612)</tspan></text>
<rect x="115.3" y="199.8" width="1.8" height="1.8" fill="#4aa84e"/>
<rect x="115.3" y="205.8" width="1.8" height="1.8" fill="#3550b0"/>
<text x="119.20" y="201.80" font-family="Liberation Serif" font-size="6.4" text-anchor="start" fill="#222" >R<tspan font-size="3.6" dy="-2.4">2</tspan></text>
<text x="119.20" y="208.60" font-family="Liberation Serif" font-size="6.4" text-anchor="start" fill="#222" >Q<tspan font-size="3.6" dy="-2.4">2</tspan></text>
<text x="34.70" y="262.30" font-family="Liberation Mono" font-size="4.7" text-anchor="start" fill="#333" textLength="62.2" lengthAdjust="spacingAndGlyphs" >200 permutations 2 components</text>
<line x1="166.2" y1="223.6" x2="250.2" y2="223.6" stroke="#d6d6d6" stroke-width="1.3"/>
<line x1="178.1" y1="213.5" x2="178.1" y2="251.1" stroke="#d4d4d4" stroke-width="1.2"/>
<line x1="166.2" y1="251.1" x2="166.2" y2="216" stroke="#777" stroke-width="0.45"/>
<path d="M165.29999999999998 217.5 L166.2 214.5 L167.1 217.5Z" fill="#777"/>
<line x1="166.2" y1="251.1" x2="248.2" y2="251.1" stroke="#777" stroke-width="0.45"/>
<path d="M245.7 250.2 L249.2 251.1 L245.7 252.0Z" fill="#777"/>
<line x1="166.10" y1="251.1" x2="166.10" y2="251.9" stroke="#777" stroke-width="0.4"/>
<rect x="162.25" y="256.42" width="1.19" height="0.5" fill="#555"/>
<text x="163.83" y="258.00" font-family="Liberation Sans" font-size="4.4" fill="#555" text-rendering="auto">0.2</text>
<line x1="178.10" y1="251.1" x2="178.10" y2="251.9" stroke="#777" stroke-width="0.4"/>
<text x="176.88" y="258.00" font-family="Liberation Sans" font-size="4.4" fill="#555" text-rendering="auto">0</text>
<line x1="190.10" y1="251.1" x2="190.10" y2="251.9" stroke="#777" stroke-width="0.4"/>
<text x="187.04" y="258.00" font-family="Liberation Sans" font-size="4.4" fill="#555" text-rendering="auto">0.2</text>
<line x1="202.10" y1="251.1" x2="202.10" y2="251.9" stroke="#777" stroke-width="0.4"/>
<text x="199.04" y="258.00" font-family="Liberation Sans" font-size="4.4" fill="#555" text-rendering="auto">0.4</text>
<line x1="214.10" y1="251.1" x2="214.10" y2="251.9" stroke="#777" stroke-width="0.4"/>
<text x="211.04" y="258.00" font-family="Liberation Sans" font-size="4.4" fill="#555" text-rendering="auto">0.6</text>
<line x1="226.10" y1="251.1" x2="226.10" y2="251.9" stroke="#777" stroke-width="0.4"/>
<text x="223.04" y="258.00" font-family="Liberation Sans" font-size="4.4" fill="#555" text-rendering="auto">0.8</text>
<line x1="238.10" y1="251.1" x2="238.10" y2="251.9" stroke="#777" stroke-width="0.4"/>
<text x="236.88" y="258.00" font-family="Liberation Sans" font-size="4.4" fill="#555" text-rendering="auto">1</text>
<line x1="165.39999999999998" y1="251.10" x2="166.2" y2="251.10" stroke="#777" stroke-width="0.4"/>
<rect x="160.46" y="251.45" width="1.16" height="0.5" fill="#555"/>
<text x="162.01" y="253.00" font-family="Liberation Sans" font-size="4.3" fill="#555" text-rendering="auto">4</text>
<line x1="165.39999999999998" y1="244.22" x2="166.2" y2="244.22" stroke="#777" stroke-width="0.4"/>
<rect x="160.46" y="244.45" width="1.16" height="0.5" fill="#555"/>
<text x="162.01" y="246.00" font-family="Liberation Sans" font-size="4.3" fill="#555" text-rendering="auto">3</text>
<line x1="165.39999999999998" y1="237.35" x2="166.2" y2="237.35" stroke="#777" stroke-width="0.4"/>
<rect x="160.46" y="237.45" width="1.16" height="0.5" fill="#555"/>
<text x="162.01" y="239.00" font-family="Liberation Sans" font-size="4.3" fill="#555" text-rendering="auto">2</text>
<line x1="165.39999999999998" y1="230.47" x2="166.2" y2="230.47" stroke="#777" stroke-width="0.4"/>
<rect x="160.46" y="230.45" width="1.16" height="0.5" fill="#555"/>
<text x="162.01" y="232.00" font-family="Liberation Sans" font-size="4.3" fill="#555" text-rendering="auto">1</text>
<line x1="165.39999999999998" y1="223.60" x2="166.2" y2="223.60" stroke="#777" stroke-width="0.4"/>
<text x="162.01" y="225.00" font-family="Liberation Sans" font-size="4.3" fill="#555" text-rendering="auto">0</text>
<line x1="165.39999999999998" y1="216.72" x2="166.2" y2="216.72" stroke="#777" stroke-width="0.4"/>
<text x="162.01" y="218.00" font-family="Liberation Sans" font-size="4.3" fill="#555" text-rendering="auto">1</text>
<rect x="183.15" y="218.65" width="1.9" height="19.39" fill="#3550b0"/>
<rect x="183.25" y="239.25" width="1.7" height="1.7" fill="#3550b0"/>
<rect x="183.25" y="242.00" width="1.7" height="1.7" fill="#3550b0"/>
<rect x="183.25" y="247.50" width="1.7" height="1.7" fill="#3550b0"/>
<rect x="183.25" y="248.88" width="1.7" height="1.7" fill="#3550b0"/>
<rect x="189.15" y="218.65" width="1.9" height="13.89" fill="#3550b0"/>
<rect x="189.25" y="234.92" width="1.7" height="1.7" fill="#3550b0"/>
<rect x="189.25" y="236.84" width="1.7" height="1.7" fill="#3550b0"/>
<rect x="189.25" y="238.91" width="1.7" height="1.7" fill="#3550b0"/>
<rect x="189.25" y="245.78" width="1.7" height="1.7" fill="#3550b0"/>
<rect x="189.25" y="248.19" width="1.7" height="1.7" fill="#3550b0"/>
<rect x="201.15" y="218.65" width="1.9" height="21.11" fill="#3550b0"/>
<rect x="207.15" y="218.79" width="1.9" height="14.64" fill="#3550b0"/>
<rect x="207.25" y="236.50" width="1.7" height="1.7" fill="#3550b0"/>
<rect x="207.25" y="242.00" width="1.7" height="1.7" fill="#3550b0"/>
<rect x="207.25" y="247.50" width="1.7" height="1.7" fill="#3550b0"/>
<rect x="219.15" y="219.47" width="1.9" height="5.29" fill="#3550b0"/>
<rect x="237.00" y="215.79" width="2.2" height="2" fill="#3550b0"/>
<line x1="178.1" y1="218.52" x2="238.10" y2="216.79" stroke="#2a2a2a" stroke-width="0.85" stroke-dasharray="1.8,1"/>
<line x1="178.1" y1="232.74" x2="238.10" y2="216.79" stroke="#2a2a2a" stroke-width="0.85" stroke-dasharray="1.8,1"/>
<rect x="182.70" y="216.46" width="2.8" height="3.20" rx="1.4" fill="#4aa84e"/>
<rect x="188.70" y="216.46" width="2.8" height="3.20" rx="1.4" fill="#4aa84e"/>
<rect x="200.70" y="216.46" width="2.8" height="3.20" rx="1.4" fill="#4aa84e"/>
<rect x="206.70" y="216.60" width="2.8" height="3.20" rx="1.4" fill="#4aa84e"/>
<rect x="218.70" y="216.60" width="2.8" height="3.20" rx="1.4" fill="#4aa84e"/>
<text x="186.10" y="201.1" font-family="Liberation Serif" font-size="7.5" text-anchor="end" fill="#111" stroke="#111" stroke-width="0.08">4</text>
<text x="193.7" y="201.1" font-family="Liberation Serif" font-size="7.5" text-anchor="end" fill="#111" stroke="#111" stroke-width="0.08">C</text>
<text x="189.00" y="199.10" font-family="Liberation Serif" font-size="4.20" text-anchor="end" fill="#111" stroke="#111" stroke-width="0.08">°</text>
<text x="199.9" y="201.1" font-family="Liberation Serif" font-size="7.5" fill="#111" stroke="#111" stroke-width="0.08" textLength="33.10" lengthAdjust="spacingAndGlyphs">(OPLS-DA)</text>
<text x="153.00" y="208.60" font-family="Liberation Serif" font-size="6.3" text-anchor="start" fill="#000" textLength="97" lengthAdjust="spacingAndGlyphs" stroke="#000" stroke-width="0.07">Intercepts: R<tspan font-size="3.7" dy="-2.2">2</tspan><tspan dy="2.2"> = (0.0, 0.739), Q</tspan><tspan font-size="3.7" dy="-2.2">2</tspan><tspan dy="2.2"> = (0.0, −1.33)</tspan></text>
<rect x="254.4" y="199.8" width="1.8" height="1.8" fill="#4aa84e"/>
<rect x="254.4" y="205.8" width="1.8" height="1.8" fill="#3550b0"/>
<text x="258.30" y="201.80" font-family="Liberation Serif" font-size="6.4" text-anchor="start" fill="#222" >R<tspan font-size="3.6" dy="-2.4">2</tspan></text>
<text x="258.30" y="208.60" font-family="Liberation Serif" font-size="6.4" text-anchor="start" fill="#222" >Q<tspan font-size="3.6" dy="-2.4">2</tspan></text>
<text x="173.00" y="262.30" font-family="Liberation Mono" font-size="4.7" text-anchor="start" fill="#333" textLength="63" lengthAdjust="spacingAndGlyphs" >200 permutations 2 components</text>
<line x1="299.5" y1="229.5" x2="383.2" y2="229.5" stroke="#d6d6d6" stroke-width="1.3"/>
<line x1="311.3" y1="213.5" x2="311.3" y2="251.3" stroke="#d4d4d4" stroke-width="1.2"/>
<line x1="299.5" y1="251.3" x2="299.5" y2="216" stroke="#777" stroke-width="0.45"/>
<path d="M298.6 217.5 L299.5 214.5 L300.4 217.5Z" fill="#777"/>
<line x1="299.5" y1="251.3" x2="381.2" y2="251.3" stroke="#777" stroke-width="0.45"/>
<path d="M378.7 250.4 L382.2 251.3 L378.7 252.20000000000002Z" fill="#777"/>
<line x1="299.30" y1="251.3" x2="299.30" y2="252.10000000000002" stroke="#777" stroke-width="0.4"/>
<rect x="295.45" y="256.42" width="1.19" height="0.5" fill="#555"/>
<text x="297.03" y="258.00" font-family="Liberation Sans" font-size="4.4" fill="#555" text-rendering="auto">0.2</text>
<line x1="311.30" y1="251.3" x2="311.30" y2="252.10000000000002" stroke="#777" stroke-width="0.4"/>
<text x="310.08" y="258.00" font-family="Liberation Sans" font-size="4.4" fill="#555" text-rendering="auto">0</text>
<line x1="323.30" y1="251.3" x2="323.30" y2="252.10000000000002" stroke="#777" stroke-width="0.4"/>
<text x="320.24" y="258.00" font-family="Liberation Sans" font-size="4.4" fill="#555" text-rendering="auto">0.2</text>
<line x1="335.30" y1="251.3" x2="335.30" y2="252.10000000000002" stroke="#777" stroke-width="0.4"/>
<text x="332.24" y="258.00" font-family="Liberation Sans" font-size="4.4" fill="#555" text-rendering="auto">0.4</text>
<line x1="347.30" y1="251.3" x2="347.30" y2="252.10000000000002" stroke="#777" stroke-width="0.4"/>
<text x="344.24" y="258.00" font-family="Liberation Sans" font-size="4.4" fill="#555" text-rendering="auto">0.6</text>
<line x1="359.30" y1="251.3" x2="359.30" y2="252.10000000000002" stroke="#777" stroke-width="0.4"/>
<text x="356.24" y="258.00" font-family="Liberation Sans" font-size="4.4" fill="#555" text-rendering="auto">0.8</text>
<line x1="371.30" y1="251.3" x2="371.30" y2="252.10000000000002" stroke="#777" stroke-width="0.4"/>
<text x="370.08" y="258.00" font-family="Liberation Sans" font-size="4.4" fill="#555" text-rendering="auto">1</text>
<line x1="298.7" y1="251.20" x2="299.5" y2="251.20" stroke="#777" stroke-width="0.4"/>
<rect x="293.76" y="251.45" width="1.16" height="0.5" fill="#555"/>
<text x="295.31" y="253.00" font-family="Liberation Sans" font-size="4.3" fill="#555" text-rendering="auto">2</text>
<line x1="298.7" y1="245.78" x2="299.5" y2="245.78" stroke="#777" stroke-width="0.4"/>
<rect x="290.18" y="245.45" width="1.16" height="0.5" fill="#555"/>
<text x="291.72" y="247.00" font-family="Liberation Sans" font-size="4.3" fill="#555" text-rendering="auto">1.5</text>
<line x1="298.7" y1="240.35" x2="299.5" y2="240.35" stroke="#777" stroke-width="0.4"/>
<rect x="293.76" y="240.45" width="1.16" height="0.5" fill="#555"/>
<text x="295.31" y="242.00" font-family="Liberation Sans" font-size="4.3" fill="#555" text-rendering="auto">1</text>
<line x1="298.7" y1="234.93" x2="299.5" y2="234.93" stroke="#777" stroke-width="0.4"/>
<rect x="290.18" y="234.45" width="1.16" height="0.5" fill="#555"/>
<text x="291.72" y="236.00" font-family="Liberation Sans" font-size="4.3" fill="#555" text-rendering="auto">0.5</text>
<line x1="298.7" y1="229.50" x2="299.5" y2="229.50" stroke="#777" stroke-width="0.4"/>
<text x="295.31" y="231.00" font-family="Liberation Sans" font-size="4.3" fill="#555" text-rendering="auto">0</text>
<line x1="298.7" y1="224.07" x2="299.5" y2="224.07" stroke="#777" stroke-width="0.4"/>
<text x="291.72" y="226.00" font-family="Liberation Sans" font-size="4.3" fill="#555" text-rendering="auto">0.5</text>
<line x1="298.7" y1="218.65" x2="299.5" y2="218.65" stroke="#777" stroke-width="0.4"/>
<text x="295.31" y="220.00" font-family="Liberation Sans" font-size="4.3" fill="#555" text-rendering="auto">1</text>
<rect x="316.35" y="226.14" width="1.9" height="22.24" fill="#3550b0"/>
<rect x="322.35" y="225.38" width="1.9" height="19.31" fill="#3550b0"/>
<rect x="334.35" y="226.90" width="1.9" height="12.15" fill="#3550b0"/>
<rect x="340.35" y="226.14" width="1.9" height="6.62" fill="#3550b0"/>
<rect x="340.45" y="240.80" width="1.7" height="1.7" fill="#3550b0"/>
<rect x="352.35" y="223.86" width="1.9" height="3.04" fill="#3550b0"/>
<rect x="370.20" y="217.65" width="2.2" height="2" fill="#3550b0"/>
<line x1="311.3" y1="225.78" x2="371.30" y2="218.65" stroke="#2a2a2a" stroke-width="0.85" stroke-dasharray="1.8,1"/>
<line x1="311.3" y1="237.66" x2="371.30" y2="218.65" stroke="#2a2a2a" stroke-width="0.85" stroke-dasharray="1.8,1"/>
<rect x="315.90" y="218.89" width="2.8" height="7.25" rx="1.4" fill="#4aa84e"/>
<rect x="321.90" y="218.89" width="2.8" height="6.49" rx="1.4" fill="#4aa84e"/>
<rect x="333.90" y="219.97" width="2.8" height="6.92" rx="1.4" fill="#4aa84e"/>
<rect x="339.90" y="218.24" width="2.8" height="7.90" rx="1.4" fill="#4aa84e"/>
<rect x="351.90" y="219.97" width="2.8" height="3.89" rx="1.4" fill="#4aa84e"/>
<text x="324.90" y="201.1" font-family="Liberation Serif" font-size="7.5" text-anchor="end" fill="#111" stroke="#111" stroke-width="0.08">10</text>
<text x="332.5" y="201.1" font-family="Liberation Serif" font-size="7.5" text-anchor="end" fill="#111" stroke="#111" stroke-width="0.08">C</text>
<text x="327.80" y="199.10" font-family="Liberation Serif" font-size="4.20" text-anchor="end" fill="#111" stroke="#111" stroke-width="0.08">°</text>
<text x="336.3" y="201.1" font-family="Liberation Serif" font-size="7.5" fill="#111" stroke="#111" stroke-width="0.08" textLength="35.40" lengthAdjust="spacingAndGlyphs">(OPLS-DA)</text>
<text x="282.70" y="208.60" font-family="Liberation Serif" font-size="6.3" text-anchor="start" fill="#000" textLength="101.3" lengthAdjust="spacingAndGlyphs" stroke="#000" stroke-width="0.07">Intercepts: R<tspan font-size="3.7" dy="-2.2">2</tspan><tspan dy="2.2"> = (0.0, 0.343), Q</tspan><tspan font-size="3.7" dy="-2.2">2</tspan><tspan dy="2.2"> = (0.0, −0.752)</tspan></text>
<rect x="388.6" y="199.8" width="1.8" height="1.8" fill="#4aa84e"/>
<rect x="388.6" y="205.8" width="1.8" height="1.8" fill="#3550b0"/>
<text x="392.50" y="201.80" font-family="Liberation Serif" font-size="6.4" text-anchor="start" fill="#222" >R<tspan font-size="3.6" dy="-2.4">2</tspan></text>
<text x="392.50" y="208.60" font-family="Liberation Serif" font-size="6.4" text-anchor="start" fill="#222" >Q<tspan font-size="3.6" dy="-2.4">2</tspan></text>
<text x="306.50" y="262.30" font-family="Liberation Mono" font-size="4.7" text-anchor="start" fill="#333" textLength="63" lengthAdjust="spacingAndGlyphs" >200 permutations 2 components</text>
<line x1="432.6" y1="225.9" x2="519.2" y2="225.9" stroke="#d6d6d6" stroke-width="1.3"/>
<line x1="445.1" y1="213.5" x2="445.1" y2="251.1" stroke="#d4d4d4" stroke-width="1.2"/>
<line x1="432.6" y1="251.1" x2="432.6" y2="216" stroke="#777" stroke-width="0.45"/>
<path d="M431.70000000000005 217.5 L432.6 214.5 L433.5 217.5Z" fill="#777"/>
<line x1="432.6" y1="251.1" x2="517.7" y2="251.1" stroke="#777" stroke-width="0.45"/>
<path d="M515.2 250.2 L518.7 251.1 L515.2 252.0Z" fill="#777"/>
<line x1="432.80" y1="251.1" x2="432.80" y2="251.9" stroke="#777" stroke-width="0.4"/>
<rect x="428.95" y="256.42" width="1.19" height="0.5" fill="#555"/>
<text x="430.53" y="258.00" font-family="Liberation Sans" font-size="4.4" fill="#555" text-rendering="auto">0.2</text>
<line x1="445.10" y1="251.1" x2="445.10" y2="251.9" stroke="#777" stroke-width="0.4"/>
<text x="443.88" y="258.00" font-family="Liberation Sans" font-size="4.4" fill="#555" text-rendering="auto">0</text>
<line x1="457.40" y1="251.1" x2="457.40" y2="251.9" stroke="#777" stroke-width="0.4"/>
<text x="454.34" y="258.00" font-family="Liberation Sans" font-size="4.4" fill="#555" text-rendering="auto">0.2</text>
<line x1="469.70" y1="251.1" x2="469.70" y2="251.9" stroke="#777" stroke-width="0.4"/>
<text x="466.64" y="258.00" font-family="Liberation Sans" font-size="4.4" fill="#555" text-rendering="auto">0.4</text>
<line x1="482.00" y1="251.1" x2="482.00" y2="251.9" stroke="#777" stroke-width="0.4"/>
<text x="478.94" y="258.00" font-family="Liberation Sans" font-size="4.4" fill="#555" text-rendering="auto">0.6</text>
<line x1="494.30" y1="251.1" x2="494.30" y2="251.9" stroke="#777" stroke-width="0.4"/>
<text x="491.24" y="258.00" font-family="Liberation Sans" font-size="4.4" fill="#555" text-rendering="auto">0.8</text>
<line x1="506.60" y1="251.1" x2="506.60" y2="251.9" stroke="#777" stroke-width="0.4"/>
<text x="505.38" y="258.00" font-family="Liberation Sans" font-size="4.4" fill="#555" text-rendering="auto">1</text>
<line x1="431.8" y1="251.10" x2="432.6" y2="251.10" stroke="#777" stroke-width="0.4"/>
<rect x="426.86" y="251.45" width="1.16" height="0.5" fill="#555"/>
<text x="428.41" y="253.00" font-family="Liberation Sans" font-size="4.3" fill="#555" text-rendering="auto">4</text>
<line x1="431.8" y1="244.80" x2="432.6" y2="244.80" stroke="#777" stroke-width="0.4"/>
<rect x="426.86" y="244.45" width="1.16" height="0.5" fill="#555"/>
<text x="428.41" y="246.00" font-family="Liberation Sans" font-size="4.3" fill="#555" text-rendering="auto">3</text>
<line x1="431.8" y1="238.50" x2="432.6" y2="238.50" stroke="#777" stroke-width="0.4"/>
<rect x="426.86" y="238.45" width="1.16" height="0.5" fill="#555"/>
<text x="428.41" y="240.00" font-family="Liberation Sans" font-size="4.3" fill="#555" text-rendering="auto">2</text>
<line x1="431.8" y1="232.20" x2="432.6" y2="232.20" stroke="#777" stroke-width="0.4"/>
<rect x="426.86" y="232.45" width="1.16" height="0.5" fill="#555"/>
<text x="428.41" y="234.00" font-family="Liberation Sans" font-size="4.3" fill="#555" text-rendering="auto">1</text>
<line x1="431.8" y1="225.90" x2="432.6" y2="225.90" stroke="#777" stroke-width="0.4"/>
<text x="428.41" y="227.00" font-family="Liberation Sans" font-size="4.3" fill="#555" text-rendering="auto">0</text>
<line x1="431.8" y1="219.60" x2="432.6" y2="219.60" stroke="#777" stroke-width="0.4"/>
<text x="428.41" y="221.00" font-family="Liberation Sans" font-size="4.3" fill="#555" text-rendering="auto">1</text>
<rect x="450.30" y="220.99" width="1.9" height="23.69" fill="#3550b0"/>
<rect x="450.40" y="249.62" width="1.7" height="1.7" fill="#3550b0"/>
<rect x="456.45" y="220.99" width="1.9" height="19.40" fill="#3550b0"/>
<rect x="456.55" y="242.38" width="1.7" height="1.7" fill="#3550b0"/>
<rect x="468.75" y="220.99" width="1.9" height="12.60" fill="#3550b0"/>
<rect x="468.85" y="235.63" width="1.7" height="1.7" fill="#3550b0"/>
<rect x="468.85" y="240.17" width="1.7" height="1.7" fill="#3550b0"/>
<rect x="474.90" y="220.99" width="1.9" height="11.09" fill="#3550b0"/>
<rect x="475.00" y="234.50" width="1.7" height="1.7" fill="#3550b0"/>
<rect x="487.30" y="223.79" width="1.7" height="1.7" fill="#3550b0"/>
<rect x="505.50" y="218.66" width="2.2" height="2" fill="#3550b0"/>
<line x1="445.1" y1="221.11" x2="506.60" y2="219.66" stroke="#2a2a2a" stroke-width="0.85" stroke-dasharray="1.8,1"/>
<line x1="445.1" y1="232.39" x2="506.60" y2="219.66" stroke="#2a2a2a" stroke-width="0.85" stroke-dasharray="1.8,1"/>
<rect x="449.85" y="218.86" width="2.8" height="3.20" rx="1.4" fill="#4aa84e"/>
<rect x="456.00" y="218.86" width="2.8" height="3.20" rx="1.4" fill="#4aa84e"/>
<rect x="468.30" y="218.86" width="2.8" height="3.20" rx="1.4" fill="#4aa84e"/>
<rect x="474.45" y="218.86" width="2.8" height="3.20" rx="1.4" fill="#4aa84e"/>
<rect x="486.75" y="218.86" width="2.8" height="3.20" rx="1.4" fill="#4aa84e"/>
<text x="457.40" y="201.1" font-family="Liberation Serif" font-size="7.5" text-anchor="end" fill="#111" stroke="#111" stroke-width="0.08">25</text>
<text x="465" y="201.1" font-family="Liberation Serif" font-size="7.5" text-anchor="end" fill="#111" stroke="#111" stroke-width="0.08">C</text>
<text x="460.30" y="199.10" font-family="Liberation Serif" font-size="4.20" text-anchor="end" fill="#111" stroke="#111" stroke-width="0.08">°</text>
<text x="468.8" y="201.1" font-family="Liberation Serif" font-size="7.5" fill="#111" stroke="#111" stroke-width="0.08" textLength="34.90" lengthAdjust="spacingAndGlyphs">(OPLS-DA)</text>
<text x="421.70" y="208.60" font-family="Liberation Serif" font-size="6.3" text-anchor="start" fill="#000" textLength="96.8" lengthAdjust="spacingAndGlyphs" stroke="#000" stroke-width="0.07">Intercepts: R<tspan font-size="3.7" dy="-2.2">2</tspan><tspan dy="2.2"> = (0.0, 0.76), Q</tspan><tspan font-size="3.7" dy="-2.2">2</tspan><tspan dy="2.2"> = (0.0, −1.03)</tspan></text>
<rect x="524.6" y="199.8" width="1.8" height="1.8" fill="#4aa84e"/>
<rect x="524.6" y="205.8" width="1.8" height="1.8" fill="#3550b0"/>
<text x="528.50" y="201.80" font-family="Liberation Serif" font-size="6.4" text-anchor="start" fill="#222" >R<tspan font-size="3.6" dy="-2.4">2</tspan></text>
<text x="528.50" y="208.60" font-family="Liberation Serif" font-size="6.4" text-anchor="start" fill="#222" >Q<tspan font-size="3.6" dy="-2.4">2</tspan></text>
<text x="443.00" y="262.30" font-family="Liberation Mono" font-size="4.7" text-anchor="start" fill="#333" textLength="62.5" lengthAdjust="spacingAndGlyphs" >200 permutations 2 components</text>
<text x="14.2" y="14.9" font-family="Liberation Serif" font-size="9" fill="#111" stroke="#111" stroke-width="0.25">(A)</text>
<text x="14.4" y="101.5" font-family="Liberation Serif" font-size="9" font-weight="bold" fill="#111">(B)</text>
<text x="14.4" y="199.5" font-family="Liberation Serif" font-size="9" fill="#111" stroke="#111" stroke-width="0.3">(C)</text>
</svg></body></html>
